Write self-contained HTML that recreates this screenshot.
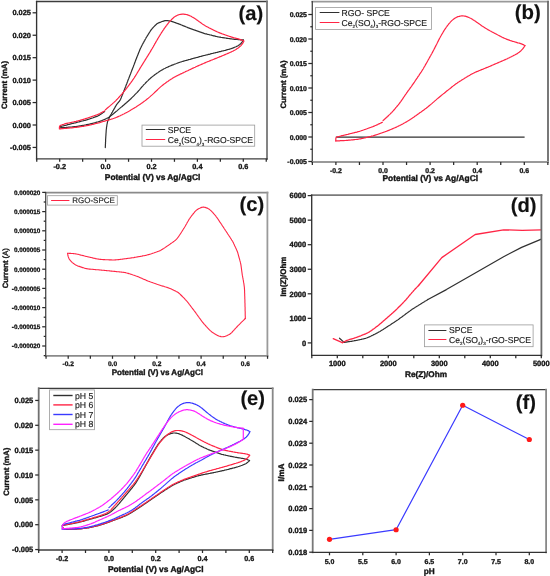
<!DOCTYPE html>
<html><head><meta charset="utf-8"><style>
html,body{margin:0;padding:0;background:#fff;overflow:hidden;}
svg{display:block;font-family:"Liberation Sans", sans-serif;will-change:transform;text-rendering:geometricPrecision;}
</style></head><body>
<svg width="550" height="576" viewBox="0 0 550 576">
<rect width="550" height="576" fill="#fff"/>
<path d="M105.3 147.6L105.3 146.8L105.4 146.1L105.4 145.3L105.4 144.6L105.5 143.8L105.5 143.1L105.5 142.3L105.6 141.6L105.6 140.8L105.6 140.1L105.6 139.3L105.7 138.6L105.7 137.8L105.8 137.1L105.8 136.3L105.9 135.6L105.9 134.8L106.0 134.1L106.0 133.3L106.1 132.6L106.1 131.8L106.2 131.1L106.2 130.3L106.3 129.5L106.4 128.8L106.5 128.1L106.5 127.3L106.7 126.6L106.8 125.8L106.9 125.1L107.0 124.3L107.2 123.6L107.3 122.9L107.5 122.1L107.7 121.4L107.9 120.7L108.2 120.0L108.5 119.3L108.9 118.6L109.2 118.0L109.5 117.3L109.8 116.6L110.2 115.9L110.5 115.3L110.9 114.6L111.3 114.0L111.6 113.3L112.0 112.6L112.4 112.0L112.7 111.3L113.1 110.7L113.5 110.0L113.9 109.4L114.2 108.7L114.6 108.1L115.0 107.4L115.3 106.7L115.7 106.1L116.1 105.4L116.5 104.8L116.9 104.2L117.4 103.6L117.8 103.0L118.3 102.5L118.8 101.9L119.3 101.3L119.8 100.7L120.1 100.1L120.5 99.5L120.8 98.8L121.1 98.1L121.4 97.4L121.6 96.7L121.9 96.0L122.2 95.3L122.5 94.6L122.8 93.9L123.0 93.2L123.3 92.5L123.6 91.8L123.9 91.1L124.1 90.4L124.4 89.7L124.7 89.0L125.0 88.3L125.2 87.6L125.5 86.9L125.8 86.2L126.0 85.5L126.3 84.8L126.6 84.1L126.9 83.4L127.1 82.7L127.4 81.9L127.7 81.2L127.9 80.5L128.2 79.8L128.5 79.1L128.8 78.4L129.0 77.7L129.3 77.0L129.6 76.3L129.8 75.6L130.1 74.9L130.4 74.2L130.7 73.5L130.9 72.8L131.2 72.1L131.5 71.4L131.7 70.7L132.0 70.0L132.3 69.3L132.5 68.6L132.8 67.9L133.1 67.2L133.4 66.5L133.6 65.8L133.9 65.1L134.2 64.4L134.4 63.7L134.7 63.0L135.0 62.3L135.2 61.6L135.5 60.8L135.8 60.1L136.0 59.4L136.3 58.7L136.6 58.0L136.9 57.3L137.1 56.6L137.4 55.9L137.7 55.2L138.0 54.5L138.3 53.8L138.5 53.1L138.8 52.4L139.1 51.7L139.4 51.0L139.7 50.3L140.0 49.6L140.2 49.0L140.5 48.3L140.9 47.6L141.2 46.9L141.5 46.2L141.9 45.6L142.2 44.9L142.6 44.2L142.9 43.6L143.3 42.9L143.7 42.3L144.0 41.6L144.4 40.9L144.8 40.3L145.1 39.6L145.5 39.0L145.9 38.3L146.2 37.6L146.6 37.0L147.0 36.4L147.4 35.7L147.8 35.1L148.2 34.4L148.6 33.8L149.0 33.2L149.4 32.5L149.8 31.9L150.2 31.3L150.6 30.6L151.1 30.0L151.5 29.4L152.0 28.8L152.4 28.2L153.0 27.7L153.5 27.1L154.0 26.6L154.5 26.1L155.1 25.5L155.6 25.0L156.2 24.5L156.7 24.0L157.3 23.6L157.9 23.2L158.6 22.9L159.3 22.6L160.0 22.3L160.7 22.1L161.4 21.8L162.1 21.5L162.8 21.3L163.5 21.1L164.2 20.9L165.0 20.7L165.7 20.7L166.4 20.7L167.2 20.7L167.9 20.7L168.7 20.8L169.4 20.9L170.2 21.0L170.9 21.2L171.6 21.4L172.3 21.6L173.0 21.8L173.8 22.1L174.5 22.3L175.2 22.6L175.9 22.9L176.6 23.1L177.3 23.4L178.0 23.6L178.7 23.9L179.4 24.2L180.1 24.4L180.8 24.7L181.5 25.0L182.2 25.3L182.9 25.6L183.6 25.9L184.3 26.1L185.0 26.4L185.7 26.7L186.4 27.0L187.1 27.3L187.8 27.6L188.5 27.9L189.2 28.1L189.9 28.4L190.6 28.7L191.3 28.9L192.0 29.2L192.7 29.4L193.4 29.7L194.1 29.9L194.9 30.2L195.6 30.4L196.3 30.7L197.0 30.9L197.7 31.2L198.4 31.4L199.1 31.7L199.8 31.9L200.5 32.2L201.3 32.4L202.0 32.7L202.7 32.9L203.4 33.1L204.1 33.4L204.8 33.6L205.6 33.8L206.3 33.9L207.0 34.1L207.8 34.3L208.5 34.5L209.2 34.7L210.0 34.9L210.7 35.0L211.4 35.2L212.1 35.4L212.9 35.6L213.6 35.8L214.3 35.9L215.1 36.1L215.8 36.3L216.5 36.5L217.3 36.7L218.0 36.8L218.7 37.0L219.5 37.1L220.2 37.2L221.0 37.4L221.7 37.5L222.5 37.6L223.2 37.7L223.9 37.8L224.7 37.9L225.4 38.0L226.2 38.1L226.9 38.3L227.7 38.4L228.4 38.5L229.2 38.6L229.9 38.7L230.7 38.8L231.4 38.9L232.1 39.0L232.9 39.1L233.6 39.2L234.4 39.3L235.1 39.3L235.9 39.4L236.6 39.5L237.4 39.5L238.1 39.6L238.9 39.6L239.6 39.7L240.4 39.8L241.1 39.8L241.9 39.9L242.6 39.9L243.4 40.0" fill="none" stroke="#303030" stroke-width="1.20" stroke-linejoin="round" stroke-linecap="round"/>
<path d="M243.4 40.0L243.0 40.6L242.6 41.3L242.2 41.9L241.8 42.4L241.4 43.0L240.9 43.5L240.3 44.0L239.8 44.5L239.2 44.9L238.6 45.3L238.0 45.7L237.3 46.1L236.6 46.4L236.0 46.7L235.3 47.0L234.6 47.3L233.9 47.6L233.2 47.9L232.5 48.1L231.8 48.4L231.1 48.6L230.3 48.8L229.6 49.1L228.9 49.3L228.2 49.5L227.4 49.7L226.7 49.9L226.0 50.1L225.3 50.3L224.5 50.5L223.8 50.7L223.1 50.8L222.3 51.0L221.6 51.2L220.9 51.4L220.1 51.6L219.4 51.7L218.7 51.9L217.9 52.1L217.2 52.3L216.5 52.5L215.7 52.6L215.0 52.8L214.3 53.0L213.5 53.2L212.8 53.4L212.1 53.5L211.3 53.7L210.6 53.9L209.9 54.1L209.1 54.3L208.4 54.4L207.7 54.6L206.9 54.8L206.2 55.0L205.5 55.2L204.7 55.4L204.0 55.5L203.3 55.7L202.5 55.9L201.8 56.1L201.1 56.3L200.4 56.5L199.6 56.7L198.9 56.9L198.2 57.1L197.4 57.3L196.7 57.5L196.0 57.7L195.2 57.9L194.5 58.1L193.8 58.2L193.1 58.5L192.3 58.7L191.6 58.9L190.9 59.1L190.2 59.3L189.4 59.5L188.7 59.7L188.0 59.9L187.2 60.1L186.5 60.3L185.8 60.5L185.1 60.7L184.3 60.9L183.6 61.1L182.9 61.3L182.2 61.5L181.4 61.8L180.7 62.0L180.0 62.2L179.3 62.5L178.6 62.7L177.9 63.0L177.2 63.2L176.5 63.5L175.7 63.8L175.0 64.0L174.3 64.3L173.6 64.6L172.9 64.8L172.2 65.1L171.5 65.4L170.8 65.7L170.1 66.0L169.4 66.3L168.7 66.6L168.1 66.9L167.4 67.2L166.7 67.5L166.0 67.8L165.3 68.2L164.7 68.5L164.0 68.8L163.3 69.2L162.7 69.6L162.0 69.9L161.4 70.3L160.7 70.7L160.1 71.1L159.4 71.5L158.8 71.9L158.2 72.4L157.6 72.8L156.9 73.2L156.3 73.7L155.7 74.1L155.1 74.5L154.5 75.0L153.9 75.5L153.3 75.9L152.7 76.4L152.1 76.9L151.6 77.3L151.0 77.8L150.4 78.3L149.9 78.8L149.3 79.3L148.7 79.8L148.2 80.4L147.7 80.9L147.1 81.4L146.6 81.9L146.0 82.5L145.5 83.0L145.0 83.6L144.5 84.1L143.9 84.6L143.4 85.2L142.9 85.8L142.4 86.3L141.9 86.9L141.4 87.5L140.9 88.0L140.5 88.6L140.0 89.2L139.5 89.8L139.0 90.3L138.5 90.9L138.0 91.5L137.5 92.0L137.0 92.6L136.4 93.1L135.9 93.7L135.4 94.2L134.9 94.7L134.3 95.3L133.8 95.8L133.3 96.3L132.7 96.9L132.2 97.4L131.7 97.9L131.1 98.5L130.6 99.0L130.0 99.5L129.5 100.0L128.9 100.5L128.4 101.0L127.8 101.5L127.2 102.0L126.7 102.5L126.1 103.0L125.5 103.5L124.9 104.0L124.4 104.5L123.8 105.0L123.2 105.5L122.6 106.0L122.1 106.5L121.5 106.9L120.9 107.4L120.3 107.9L119.8 108.4L119.2 108.9L118.6 109.4L118.0 109.9L117.5 110.4L116.9 110.9L116.3 111.3L115.7 111.8L115.2 112.3L114.6 112.8L114.0 113.3L113.4 113.8L112.8 114.2L112.2 114.7L111.7 115.2L111.1 115.6L110.5 116.1L109.8 116.5L109.2 117.0L108.6 117.4L108.0 117.8L107.3 118.1L106.7 118.5L106.0 118.8L105.3 119.1L104.6 119.5L103.9 119.7L103.2 120.0L102.5 120.3L101.8 120.6L101.1 120.8L100.4 121.1L99.7 121.3L99.0 121.5L98.3 121.8L97.5 122.0L96.8 122.2L96.1 122.4L95.4 122.6L94.6 122.8L93.9 123.0L93.2 123.2L92.4 123.4L91.7 123.6L91.0 123.7L90.3 123.9L89.5 124.1L88.8 124.3L88.0 124.4L87.3 124.6L86.6 124.7L85.8 124.9L85.1 125.0L84.3 125.2L83.6 125.3L82.9 125.4L82.1 125.6L81.4 125.7L80.6 125.8L79.9 125.9L79.1 126.1L78.4 126.2L77.6 126.3L76.9 126.4L76.2 126.5L75.4 126.6L74.7 126.7L73.9 126.7L73.2 126.8L72.4 126.9L71.6 127.0L70.9 127.0L70.1 127.1L69.4 127.2L68.6 127.2L67.9 127.3L67.1 127.4L66.4 127.4L65.6 127.5L64.9 127.5L64.1 127.6L63.4 127.6L62.6 127.6L61.9 127.7L61.1 127.7L60.4 127.8L59.6 127.8" fill="none" stroke="#303030" stroke-width="1.20" stroke-linejoin="round" stroke-linecap="round"/>
<path d="M59.6 126.8L60.3 126.6L61.1 126.4L61.8 126.2L62.6 126.0L63.3 125.8L64.1 125.7L64.8 125.5L65.6 125.3L66.3 125.1L67.1 124.9L67.8 124.7L68.6 124.5L69.3 124.3L70.1 124.1L70.8 123.9L71.6 123.7L72.3 123.5L73.1 123.4L73.8 123.2L74.6 123.0L75.3 122.8L76.1 122.6L76.8 122.4L77.6 122.2L78.3 122.0L79.1 121.8L79.8 121.6L80.6 121.4L81.3 121.2L82.1 121.0L82.8 120.9L83.6 120.7L84.3 120.5L85.1 120.3L85.8 120.1L86.6 119.9L87.3 119.7L88.0 119.4L88.8 119.2L89.5 119.0L90.2 118.7L91.0 118.5L91.7 118.2L92.4 118.0L93.2 117.7L93.9 117.4L94.6 117.2L95.3 116.9L96.1 116.7L96.8 116.4L97.5 116.1L98.2 115.8L98.9 115.4L99.5 115.1L100.2 114.6L100.8 114.2L101.5 113.8L102.1 113.3L102.7 112.9L103.3 112.4L104.0 112.0L104.6 111.5" fill="none" stroke="#303030" stroke-width="1.20" stroke-linejoin="round" stroke-linecap="round"/>
<path d="M59.4 128.2L59.4 127.5L59.5 126.8L59.7 126.2L60.1 125.7L60.7 125.3L61.3 125.0L62.0 124.8L62.7 124.5L63.5 124.3L64.2 124.1L64.9 123.8L65.6 123.6L66.4 123.4L67.1 123.3L67.9 123.1L68.6 123.0L69.4 122.8L70.1 122.7L70.9 122.5L71.6 122.3L72.4 122.2L73.1 122.0L73.8 121.9L74.6 121.7L75.3 121.6L76.1 121.4L76.8 121.2L77.6 121.1L78.3 120.8L79.0 120.6L79.8 120.4L80.5 120.2L81.2 120.0L81.9 119.7L82.7 119.5L83.4 119.3L84.1 119.1L84.9 118.9L85.6 118.6L86.3 118.4L87.1 118.2L87.8 118.0L88.5 117.7L89.2 117.5L89.9 117.2L90.7 117.0L91.4 116.7L92.1 116.5L92.8 116.2L93.5 116.0L94.3 115.7L95.0 115.5L95.7 115.2L96.4 115.0L97.1 114.7L97.9 114.4L98.6 114.1L99.2 113.8L99.9 113.5L100.6 113.1L101.3 112.7L101.9 112.4L102.6 112.0L103.3 111.6L103.9 111.3L104.6 110.9" fill="none" stroke="#ff2545" stroke-width="1.20" stroke-linejoin="round" stroke-linecap="round"/>
<path d="M105.4 109.8L106.0 109.3L106.5 108.8L107.1 108.3L107.7 107.8L108.3 107.3L108.8 106.9L109.4 106.4L110.0 105.9L110.6 105.4L111.1 104.9L111.7 104.4L112.3 103.9L112.8 103.4L113.4 102.9L114.0 102.4L114.5 101.9L115.1 101.3L115.6 100.8L116.1 100.3L116.6 99.7L117.2 99.2L117.7 98.6L118.2 98.1L118.7 97.5L119.2 97.0L119.7 96.4L120.2 95.8L120.7 95.3L121.3 94.7L121.8 94.2L122.3 93.6L122.8 93.0L123.3 92.5L123.7 91.9L124.2 91.3L124.7 90.7L125.2 90.1L125.6 89.5L126.1 88.9L126.6 88.3L127.0 87.7L127.5 87.1L127.9 86.5L128.4 85.9L128.8 85.3L129.3 84.7L129.7 84.1L130.2 83.5L130.6 82.9L131.1 82.3L131.5 81.7L132.0 81.1L132.4 80.4L132.8 79.8L133.3 79.2L133.7 78.6L134.1 78.0L134.5 77.3L134.9 76.7L135.3 76.1L135.7 75.4L136.1 74.8L136.5 74.1L136.9 73.5L137.3 72.8L137.7 72.2L138.1 71.5L138.5 70.9L138.9 70.2L139.3 69.6L139.7 68.9L140.0 68.3L140.4 67.7L140.8 67.0L141.2 66.4L141.6 65.7L142.0 65.1L142.4 64.4L142.8 63.8L143.2 63.2L143.6 62.5L144.0 61.9L144.4 61.2L144.8 60.6L145.2 59.9L145.6 59.3L146.0 58.7L146.4 58.0L146.8 57.4L147.2 56.7L147.6 56.1L148.0 55.4L148.4 54.8L148.8 54.2L149.2 53.5L149.6 52.9L150.0 52.2L150.4 51.6L150.8 50.9L151.1 50.3L151.5 49.6L151.9 49.0L152.3 48.3L152.7 47.7L153.1 47.0L153.4 46.4L153.8 45.7L154.2 45.1L154.5 44.4L154.9 43.7L155.3 43.1L155.7 42.4L156.0 41.8L156.4 41.1L156.8 40.5L157.2 39.8L157.6 39.2L157.9 38.5L158.3 37.9L158.7 37.2L159.1 36.6L159.5 35.9L159.9 35.3L160.3 34.6L160.7 34.0L161.1 33.3L161.5 32.7L161.9 32.1L162.3 31.4L162.7 30.8L163.2 30.2L163.6 29.6L164.0 28.9L164.4 28.3L164.9 27.7L165.3 27.1L165.8 26.5L166.2 25.9L166.7 25.3L167.1 24.7L167.6 24.1L168.1 23.5L168.5 22.9L169.0 22.3L169.5 21.7L170.0 21.2L170.5 20.6L171.0 20.1L171.5 19.5L172.1 19.0L172.6 18.5L173.2 18.0L173.7 17.5L174.3 17.1L174.9 16.6L175.6 16.2L176.2 15.9L176.9 15.5L177.5 15.2L178.2 15.0L178.9 14.7L179.6 14.5L180.3 14.4L181.1 14.3L181.8 14.2L182.5 14.2L183.2 14.2L184.0 14.2L184.7 14.3L185.4 14.4L186.2 14.5L186.9 14.7L187.6 14.9L188.3 15.2L189.0 15.4L189.7 15.7L190.4 16.0L191.1 16.3L191.7 16.7L192.4 17.1L193.0 17.4L193.7 17.8L194.3 18.2L194.9 18.6L195.6 19.0L196.2 19.5L196.8 19.9L197.4 20.3L198.0 20.8L198.7 21.2L199.3 21.7L199.9 22.1L200.5 22.6L201.1 23.0L201.7 23.4L202.3 23.9L202.9 24.3L203.6 24.7L204.2 25.1L204.9 25.5L205.5 25.9L206.2 26.3L206.8 26.6L207.5 27.0L208.2 27.3L208.8 27.7L209.5 28.0L210.2 28.4L210.9 28.7L211.5 29.0L212.2 29.4L212.9 29.7L213.6 30.1L214.2 30.4L214.9 30.7L215.6 31.1L216.3 31.4L217.0 31.7L217.6 32.0L218.3 32.3L219.0 32.6L219.7 32.9L220.4 33.2L221.1 33.4L221.8 33.7L222.5 34.0L223.3 34.2L224.0 34.5L224.7 34.7L225.4 35.0L226.1 35.2L226.8 35.5L227.5 35.7L228.2 36.0L229.0 36.2L229.7 36.5L230.4 36.7L231.1 36.9L231.8 37.2L232.6 37.4L233.3 37.6L234.0 37.8L234.7 38.0L235.5 38.2L236.2 38.4L236.9 38.6L237.7 38.7L238.4 38.9L239.1 39.2L239.8 39.4L240.5 39.6L241.2 39.9L241.9 40.1L242.6 40.4L243.3 40.7L244.0 41.0L243.7 41.6L243.3 42.3L243.0 42.9L242.6 43.5L242.1 44.1L241.7 44.7L241.2 45.3L240.7 45.8L240.2 46.3L239.6 46.8L239.0 47.3L238.5 47.7L237.8 48.2L237.2 48.6L236.6 49.0L236.0 49.4L235.3 49.8L234.7 50.2L234.0 50.5L233.3 50.9L232.7 51.2L232.0 51.5L231.3 51.9L230.6 52.2L229.9 52.5L229.3 52.8L228.6 53.1L227.9 53.4L227.2 53.7L226.5 54.0L225.8 54.3L225.1 54.6L224.4 54.9L223.7 55.2L223.0 55.5L222.3 55.8L221.6 56.1L220.9 56.4L220.2 56.6L219.5 56.9L218.8 57.2L218.1 57.5L217.4 57.8L216.7 58.1L216.0 58.3L215.3 58.6L214.6 58.9L213.9 59.2L213.2 59.5L212.5 59.8L211.8 60.0L211.1 60.3L210.4 60.6L209.7 60.9L209.0 61.2L208.3 61.5L207.6 61.7L206.9 62.0L206.2 62.3L205.5 62.6L204.8 62.9L204.1 63.2L203.5 63.5L202.8 63.8L202.1 64.1L201.4 64.4L200.7 64.7L200.0 65.0L199.3 65.3L198.6 65.6L197.9 65.9L197.2 66.2L196.5 66.5L195.9 66.8L195.2 67.2L194.5 67.5L193.8 67.8L193.1 68.1L192.4 68.4L191.7 68.7L191.1 69.1L190.4 69.4L189.7 69.7L189.0 70.0L188.3 70.4L187.7 70.7L187.0 71.0L186.3 71.3L185.6 71.6L184.9 72.0L184.2 72.3L183.6 72.6L182.9 72.9L182.2 73.3L181.5 73.6L180.8 73.9L180.1 74.2L179.5 74.6L178.8 74.9L178.1 75.2L177.4 75.5L176.8 75.9L176.1 76.2L175.4 76.6L174.8 76.9L174.1 77.3L173.4 77.7L172.8 78.1L172.2 78.5L171.5 78.9L170.9 79.3L170.3 79.7L169.6 80.1L169.0 80.5L168.4 81.0L167.8 81.4L167.1 81.8L166.5 82.3L165.9 82.7L165.3 83.2L164.7 83.6L164.1 84.1L163.5 84.5L162.9 85.0L162.3 85.5L161.8 85.9L161.2 86.4L160.6 86.9L160.0 87.4L159.5 87.9L158.9 88.4L158.4 88.9L157.8 89.4L157.3 90.0L156.7 90.5L156.2 91.0L155.6 91.5L155.1 92.0L154.5 92.5L154.0 93.1L153.4 93.6L152.9 94.1L152.3 94.6L151.8 95.1L151.2 95.6L150.6 96.1L150.1 96.6L149.5 97.1L148.9 97.6L148.4 98.1L147.8 98.6L147.2 99.0L146.6 99.5L146.0 100.0L145.4 100.4L144.8 100.9L144.2 101.3L143.6 101.8L143.0 102.2L142.4 102.7L141.8 103.1L141.1 103.6L140.5 104.0L139.9 104.4L139.3 104.8L138.6 105.2L138.0 105.6L137.4 106.1L136.7 106.5L136.1 106.9L135.4 107.3L134.8 107.7L134.2 108.1L133.5 108.4L132.9 108.8L132.2 109.2L131.6 109.6L130.9 110.0L130.3 110.4L129.6 110.8L129.0 111.2L128.3 111.5L127.7 111.9L127.0 112.3L126.3 112.6L125.7 113.0L125.0 113.3L124.3 113.7L123.7 114.0L123.0 114.3L122.3 114.7L121.6 115.0L121.0 115.3L120.3 115.7L119.6 116.0L118.9 116.3L118.2 116.6L117.5 116.9L116.8 117.2L116.1 117.5L115.4 117.8L114.7 118.0L114.0 118.3L113.3 118.5L112.6 118.8L111.9 119.0L111.2 119.2L110.4 119.5L109.7 119.7L109.0 119.9L108.3 120.1L107.5 120.3L106.8 120.5L106.1 120.7L105.4 120.9L104.6 121.1L103.9 121.3L103.2 121.5L102.5 121.7L101.7 121.9L101.0 122.1L100.3 122.4L99.6 122.6L98.8 122.8L98.1 123.0L97.4 123.2L96.7 123.4L95.9 123.5L95.2 123.7L94.5 123.9L93.7 124.1L93.0 124.3L92.3 124.5L91.5 124.6L90.8 124.8L90.1 125.0L89.3 125.1L88.6 125.3L87.9 125.5L87.1 125.6L86.4 125.7L85.6 125.9L84.9 126.0L84.1 126.1L83.4 126.3L82.7 126.4L81.9 126.5L81.2 126.6L80.4 126.7L79.7 126.8L78.9 126.9L78.2 127.1L77.4 127.2L76.7 127.3L75.9 127.3L75.2 127.4L74.4 127.5L73.7 127.6L72.9 127.7L72.2 127.8L71.4 127.8L70.7 127.9L69.9 128.0L69.2 128.1L68.4 128.1L67.7 128.2L66.9 128.3L66.2 128.3L65.4 128.4L64.7 128.5L63.9 128.5L63.2 128.6L62.4 128.7L61.7 128.7L60.9 128.8L60.2 128.8L59.4 128.9" fill="none" stroke="#ff2545" stroke-width="1.20" stroke-linejoin="round" stroke-linecap="round"/>
<line x1="36.60" y1="1.50" x2="267.00" y2="1.50" stroke="#3c3c3c" stroke-width="1.35" stroke-linecap="square"/>
<line x1="267.00" y1="1.50" x2="267.00" y2="158.80" stroke="#777" stroke-width="1.80" stroke-linecap="square"/>
<line x1="36.60" y1="1.50" x2="36.60" y2="158.80" stroke="#333" stroke-width="1.35" stroke-linecap="square"/>
<line x1="36.60" y1="158.80" x2="267.00" y2="158.80" stroke="#3c3c3c" stroke-width="1.35" stroke-linecap="square"/>
<line x1="32.60" y1="12.80" x2="36.60" y2="12.80" stroke="#2a2a2a" stroke-width="1.25"/>
<line x1="32.60" y1="35.24" x2="36.60" y2="35.24" stroke="#2a2a2a" stroke-width="1.25"/>
<line x1="32.60" y1="57.68" x2="36.60" y2="57.68" stroke="#2a2a2a" stroke-width="1.25"/>
<line x1="32.60" y1="80.12" x2="36.60" y2="80.12" stroke="#2a2a2a" stroke-width="1.25"/>
<line x1="32.60" y1="102.56" x2="36.60" y2="102.56" stroke="#2a2a2a" stroke-width="1.25"/>
<line x1="32.60" y1="125.00" x2="36.60" y2="125.00" stroke="#2a2a2a" stroke-width="1.25"/>
<line x1="32.60" y1="147.44" x2="36.60" y2="147.44" stroke="#2a2a2a" stroke-width="1.25"/>
<text x="30.90" y="15.30" font-size="7.40" font-weight="bold" text-anchor="end" fill="#141414" stroke="#141414" stroke-width="0.33">0.025</text>
<text x="30.90" y="37.74" font-size="7.40" font-weight="bold" text-anchor="end" fill="#141414" stroke="#141414" stroke-width="0.33">0.020</text>
<text x="30.90" y="60.18" font-size="7.40" font-weight="bold" text-anchor="end" fill="#141414" stroke="#141414" stroke-width="0.33">0.015</text>
<text x="30.90" y="82.62" font-size="7.40" font-weight="bold" text-anchor="end" fill="#141414" stroke="#141414" stroke-width="0.33">0.010</text>
<text x="30.90" y="105.06" font-size="7.40" font-weight="bold" text-anchor="end" fill="#141414" stroke="#141414" stroke-width="0.33">0.005</text>
<text x="30.90" y="127.50" font-size="7.40" font-weight="bold" text-anchor="end" fill="#141414" stroke="#141414" stroke-width="0.33">0.000</text>
<text x="30.90" y="149.94" font-size="7.40" font-weight="bold" text-anchor="end" fill="#141414" stroke="#141414" stroke-width="0.33">-0.005</text>
<line x1="36.75" y1="158.80" x2="36.75" y2="161.80" stroke="#2a2a2a" stroke-width="1.25"/>
<line x1="59.70" y1="158.80" x2="59.70" y2="161.80" stroke="#2a2a2a" stroke-width="1.25"/>
<line x1="82.65" y1="158.80" x2="82.65" y2="161.80" stroke="#2a2a2a" stroke-width="1.25"/>
<line x1="105.60" y1="158.80" x2="105.60" y2="161.80" stroke="#2a2a2a" stroke-width="1.25"/>
<line x1="128.55" y1="158.80" x2="128.55" y2="161.80" stroke="#2a2a2a" stroke-width="1.25"/>
<line x1="151.50" y1="158.80" x2="151.50" y2="161.80" stroke="#2a2a2a" stroke-width="1.25"/>
<line x1="174.45" y1="158.80" x2="174.45" y2="161.80" stroke="#2a2a2a" stroke-width="1.25"/>
<line x1="197.40" y1="158.80" x2="197.40" y2="161.80" stroke="#2a2a2a" stroke-width="1.25"/>
<line x1="220.35" y1="158.80" x2="220.35" y2="161.80" stroke="#2a2a2a" stroke-width="1.25"/>
<line x1="243.30" y1="158.80" x2="243.30" y2="161.80" stroke="#2a2a2a" stroke-width="1.25"/>
<line x1="266.25" y1="158.80" x2="266.25" y2="161.80" stroke="#2a2a2a" stroke-width="1.25"/>
<text x="59.70" y="169.10" font-size="7.30" font-weight="bold" text-anchor="middle" fill="#141414" stroke="#141414" stroke-width="0.33">-0.2</text>
<text x="105.60" y="169.10" font-size="7.30" font-weight="bold" text-anchor="middle" fill="#141414" stroke="#141414" stroke-width="0.33">0.0</text>
<text x="151.50" y="169.10" font-size="7.30" font-weight="bold" text-anchor="middle" fill="#141414" stroke="#141414" stroke-width="0.33">0.2</text>
<text x="197.40" y="169.10" font-size="7.30" font-weight="bold" text-anchor="middle" fill="#141414" stroke="#141414" stroke-width="0.33">0.4</text>
<text x="243.30" y="169.10" font-size="7.30" font-weight="bold" text-anchor="middle" fill="#141414" stroke="#141414" stroke-width="0.33">0.6</text>
<text x="152.60" y="179.80" font-size="8.40" font-weight="bold" text-anchor="middle" fill="#141414" stroke="#141414" stroke-width="0.38">Potential (V) vs Ag/AgCl</text>
<text x="7.20" y="85.00" font-size="7.80" font-weight="bold" text-anchor="middle" fill="#141414" stroke="#141414" stroke-width="0.35" transform="rotate(-90 7.20 85.00)">Current (mA)</text>
<text x="238.60" y="19.90" font-size="20.20" font-weight="bold" text-anchor="start" fill="#111" stroke="#111" stroke-width="0.15">(a)</text>
<rect x="142.00" y="125.10" width="112.70" height="21.10" fill="#fff" stroke="#9a9a9a" stroke-width="0.8"/>
<line x1="145.80" y1="129.50" x2="165.20" y2="129.50" stroke="#303030" stroke-width="1.05"/>
<line x1="145.80" y1="139.50" x2="165.20" y2="139.50" stroke="#ff2545" stroke-width="1.05"/>
<text x="167.70" y="133.20" font-size="8.60" font-weight="normal" text-anchor="start" fill="#222" stroke="#222" stroke-width="0.15">SPCE</text>
<text x="167.70" y="143.30" font-size="8.60" font-weight="normal" text-anchor="start" fill="#222" stroke="#222" stroke-width="0.15">Ce<tspan font-size="4.47" dy="2.58">2</tspan><tspan dy="-2.58">(SO</tspan><tspan font-size="4.47" dy="2.58">4</tspan><tspan dy="-2.58">)</tspan><tspan font-size="4.47" dy="2.58">3</tspan><tspan dy="-2.58">-RGO-SPCE</tspan></text>
<line x1="335.8" y1="137.2" x2="524.6" y2="137.2" stroke="#303030" stroke-width="1.2"/>
<path d="M335.8 140.9L335.8 140.1L335.8 139.4L335.8 138.6L336.0 138.0L336.3 137.5L336.8 137.1L337.5 136.9L338.2 136.7L339.0 136.5L339.7 136.3L340.5 136.1L341.2 135.9L341.9 135.7L342.7 135.6L343.4 135.4L344.2 135.2L344.9 135.0L345.6 134.8L346.4 134.6L347.1 134.5L347.9 134.3L348.6 134.1L349.3 133.9L350.1 133.7L350.8 133.5L351.6 133.4L352.3 133.2L353.1 133.0L353.8 132.8L354.5 132.6L355.3 132.4L356.0 132.3L356.8 132.1L357.5 131.9L358.2 131.7L359.0 131.5L359.7 131.3L360.4 131.0L361.1 130.8L361.9 130.5L362.6 130.3L363.3 130.0L364.0 129.8L364.7 129.5L365.5 129.3L366.2 129.0L366.9 128.8L367.6 128.5L368.4 128.2L369.1 128.0L369.8 127.7L370.5 127.5L371.2 127.2L372.0 127.0L372.7 126.7L373.4 126.4L374.1 126.2L374.8 125.8L375.5 125.5L376.2 125.2L376.9 124.9L377.6 124.6L378.2 124.2L378.9 123.9L379.6 123.6L380.3 123.3L381.0 122.9L381.7 122.6L382.4 122.3" fill="none" stroke="#ff2545" stroke-width="1.20" stroke-linejoin="round" stroke-linecap="round"/>
<path d="M383.1 120.5L383.7 120.0L384.2 119.5L384.8 119.0L385.3 118.5L385.9 118.0L386.5 117.5L387.0 117.0L387.6 116.5L388.1 116.0L388.7 115.4L389.2 114.9L389.8 114.4L390.3 113.9L390.8 113.3L391.4 112.8L391.9 112.3L392.4 111.7L392.9 111.2L393.4 110.6L393.9 110.0L394.4 109.5L394.9 108.9L395.4 108.3L395.8 107.7L396.3 107.2L396.8 106.6L397.3 106.0L397.8 105.4L398.3 104.9L398.7 104.3L399.2 103.7L399.6 103.1L400.1 102.5L400.5 101.9L401.0 101.3L401.4 100.6L401.8 100.0L402.3 99.4L402.7 98.8L403.1 98.2L403.5 97.5L403.9 96.9L404.4 96.3L404.8 95.7L405.2 95.0L405.6 94.4L406.1 93.8L406.5 93.2L406.9 92.6L407.4 91.9L407.8 91.3L408.2 90.7L408.7 90.1L409.1 89.5L409.6 88.9L410.0 88.3L410.4 87.7L410.9 87.1L411.3 86.5L411.8 85.8L412.2 85.2L412.6 84.6L413.1 84.0L413.5 83.4L413.9 82.8L414.4 82.1L414.8 81.5L415.2 80.9L415.6 80.3L416.0 79.6L416.5 79.0L416.9 78.4L417.3 77.8L417.7 77.1L418.1 76.5L418.6 75.9L419.0 75.3L419.4 74.6L419.8 74.0L420.2 73.4L420.6 72.8L421.1 72.1L421.5 71.5L421.9 70.9L422.3 70.2L422.7 69.6L423.1 69.0L423.5 68.3L423.8 67.7L424.2 67.0L424.6 66.4L425.0 65.7L425.3 65.1L425.7 64.4L426.1 63.7L426.5 63.1L426.8 62.4L427.2 61.8L427.6 61.1L427.9 60.5L428.3 59.8L428.7 59.1L429.0 58.5L429.4 57.8L429.8 57.2L430.1 56.5L430.5 55.9L430.9 55.2L431.2 54.5L431.6 53.9L432.0 53.2L432.3 52.6L432.7 51.9L433.0 51.2L433.4 50.6L433.7 49.9L434.1 49.2L434.4 48.6L434.8 47.9L435.1 47.2L435.4 46.6L435.8 45.9L436.1 45.2L436.5 44.5L436.8 43.9L437.1 43.2L437.5 42.5L437.8 41.8L438.2 41.2L438.5 40.5L438.8 39.8L439.2 39.2L439.5 38.5L439.9 37.8L440.2 37.2L440.6 36.5L441.0 35.8L441.3 35.2L441.7 34.5L442.1 33.9L442.5 33.2L442.9 32.6L443.2 32.0L443.6 31.3L444.0 30.7L444.4 30.0L444.8 29.4L445.2 28.8L445.7 28.1L446.1 27.5L446.5 26.9L447.0 26.3L447.4 25.7L447.9 25.1L448.3 24.5L448.8 23.9L449.3 23.3L449.8 22.8L450.3 22.2L450.8 21.7L451.3 21.1L451.8 20.6L452.4 20.1L453.0 19.6L453.5 19.2L454.1 18.7L454.7 18.3L455.4 17.9L456.0 17.6L456.7 17.2L457.3 16.9L458.0 16.7L458.7 16.5L459.4 16.3L460.1 16.1L460.8 16.0L461.6 15.9L462.3 15.9L463.0 15.9L463.8 16.0L464.5 16.1L465.2 16.2L465.9 16.4L466.6 16.6L467.3 16.8L468.0 17.1L468.7 17.3L469.4 17.7L470.0 18.0L470.7 18.3L471.4 18.7L472.0 19.1L472.6 19.5L473.3 19.9L473.9 20.3L474.5 20.7L475.2 21.1L475.8 21.5L476.4 22.0L477.0 22.4L477.6 22.8L478.3 23.3L478.9 23.7L479.5 24.1L480.1 24.6L480.7 25.0L481.3 25.4L482.0 25.9L482.6 26.3L483.2 26.7L483.8 27.1L484.5 27.5L485.1 27.9L485.7 28.3L486.4 28.7L487.0 29.1L487.7 29.5L488.3 29.9L489.0 30.2L489.6 30.6L490.3 31.0L491.0 31.3L491.6 31.7L492.3 32.0L493.0 32.4L493.6 32.7L494.3 33.1L495.0 33.4L495.6 33.8L496.3 34.1L497.0 34.5L497.6 34.8L498.3 35.2L499.0 35.5L499.6 35.9L500.3 36.2L501.0 36.6L501.6 36.9L502.3 37.3L503.0 37.6L503.6 37.9L504.3 38.2L505.0 38.5L505.7 38.8L506.4 39.1L507.1 39.4L507.8 39.7L508.5 39.9L509.2 40.1L509.9 40.4L510.6 40.6L511.4 40.8L512.1 41.1L512.8 41.3L513.5 41.5L514.2 41.7L515.0 42.0L515.7 42.2L516.4 42.4L517.1 42.6L517.8 42.8L518.6 43.0L519.3 43.2L520.0 43.4L520.7 43.6L521.4 43.8L522.0 44.1L522.6 44.4L523.2 44.6L523.8 44.9L524.4 45.3L524.9 45.6" fill="none" stroke="#ff2545" stroke-width="1.20" stroke-linejoin="round" stroke-linecap="round"/>
<path d="M524.9 45.6L524.5 46.2L524.2 46.8L523.8 47.4L523.4 48.0L522.9 48.6L522.5 49.2L522.0 49.7L521.5 50.2L520.9 50.8L520.4 51.3L519.8 51.7L519.2 52.2L518.6 52.6L518.0 53.1L517.4 53.5L516.8 53.9L516.1 54.2L515.4 54.6L514.8 55.0L514.1 55.3L513.4 55.6L512.8 56.0L512.1 56.3L511.4 56.7L510.7 57.0L510.1 57.3L509.4 57.7L508.7 58.0L508.0 58.3L507.4 58.7L506.7 59.0L506.0 59.3L505.3 59.6L504.6 59.9L503.9 60.2L503.2 60.5L502.6 60.8L501.9 61.1L501.2 61.4L500.5 61.7L499.8 62.0L499.1 62.3L498.4 62.6L497.7 62.9L497.0 63.2L496.3 63.5L495.6 63.8L494.9 64.1L494.2 64.4L493.5 64.7L492.8 65.0L492.1 65.3L491.4 65.6L490.8 65.9L490.1 66.2L489.4 66.5L488.7 66.8L488.0 67.1L487.3 67.3L486.6 67.6L485.9 67.9L485.2 68.2L484.5 68.5L483.8 68.8L483.1 69.1L482.4 69.3L481.7 69.6L481.0 69.9L480.3 70.2L479.6 70.5L478.9 70.8L478.2 71.1L477.5 71.3L476.8 71.6L476.1 71.9L475.4 72.2L474.7 72.5L474.0 72.9L473.4 73.2L472.7 73.5L472.0 73.9L471.4 74.2L470.7 74.6L470.1 75.0L469.4 75.4L468.8 75.8L468.1 76.1L467.5 76.5L466.8 76.9L466.2 77.3L465.6 77.7L464.9 78.1L464.3 78.5L463.6 78.9L463.0 79.3L462.3 79.7L461.7 80.1L461.1 80.5L460.4 80.9L459.8 81.3L459.2 81.7L458.5 82.1L457.9 82.5L457.3 83.0L456.6 83.4L456.0 83.8L455.4 84.3L454.8 84.7L454.2 85.2L453.6 85.6L453.0 86.1L452.4 86.6L451.8 87.0L451.3 87.5L450.7 88.0L450.1 88.5L449.5 88.9L448.9 89.4L448.3 89.9L447.7 90.3L447.1 90.8L446.5 91.3L445.9 91.8L445.4 92.2L444.8 92.7L444.2 93.2L443.6 93.6L443.0 94.1L442.4 94.6L441.8 95.1L441.2 95.5L440.7 96.0L440.1 96.5L439.5 97.0L438.9 97.5L438.3 98.0L437.8 98.4L437.2 98.9L436.6 99.4L436.1 99.9L435.5 100.4L434.9 100.9L434.3 101.4L433.8 101.9L433.2 102.4L432.6 102.9L432.1 103.4L431.5 103.9L430.9 104.4L430.3 104.9L429.8 105.3L429.2 105.8L428.6 106.3L428.0 106.8L427.4 107.2L426.8 107.7L426.2 108.2L425.6 108.6L425.0 109.1L424.4 109.5L423.8 110.0L423.2 110.4L422.6 110.8L422.0 111.3L421.4 111.7L420.7 112.2L420.1 112.6L419.5 113.0L418.9 113.5L418.3 113.9L417.7 114.3L417.1 114.8L416.4 115.2L415.8 115.7L415.2 116.1L414.6 116.5L414.0 117.0L413.4 117.4L412.7 117.8L412.1 118.3L411.5 118.7L410.9 119.1L410.2 119.5L409.6 119.9L409.0 120.3L408.3 120.7L407.7 121.1L407.0 121.5L406.4 121.9L405.7 122.2L405.1 122.6L404.4 123.0L403.7 123.3L403.1 123.7L402.4 124.1L401.8 124.4L401.1 124.8L400.4 125.1L399.8 125.5L399.1 125.8L398.4 126.1L397.7 126.5L397.0 126.8L396.4 127.1L395.7 127.4L395.0 127.7L394.3 128.0L393.6 128.3L392.9 128.6L392.2 128.9L391.5 129.2L390.8 129.5L390.1 129.8L389.4 130.1L388.7 130.4L388.0 130.7L387.3 130.9L386.6 131.2L385.9 131.5L385.2 131.7L384.5 132.0L383.8 132.2L383.1 132.5L382.4 132.7L381.6 133.0L380.9 133.2L380.2 133.5L379.5 133.7L378.8 134.0L378.1 134.2L377.4 134.5L376.7 134.7L375.9 134.9L375.2 135.2L374.5 135.4L373.8 135.6L373.1 135.8L372.3 136.0L371.6 136.2L370.9 136.4L370.1 136.6L369.4 136.8L368.7 136.9L367.9 137.1L367.2 137.3L366.5 137.5L365.7 137.6L365.0 137.8L364.3 138.0L363.5 138.2L362.8 138.3L362.1 138.5L361.3 138.6L360.6 138.8L359.8 138.9L359.1 139.0L358.4 139.2L357.6 139.3L356.9 139.4L356.1 139.5L355.4 139.5L354.6 139.6L353.9 139.7L353.1 139.8L352.4 139.8L351.6 139.9L350.9 140.0L350.1 140.1L349.4 140.1L348.6 140.2L347.9 140.3L347.1 140.3L346.4 140.4L345.6 140.5L344.8 140.5L344.1 140.6L343.3 140.6L342.6 140.6L341.8 140.7L341.1 140.7L340.3 140.7L339.6 140.8L338.8 140.8L338.1 140.8L337.3 140.8L336.6 140.9L335.8 140.9" fill="none" stroke="#ff2545" stroke-width="1.20" stroke-linejoin="round" stroke-linecap="round"/>
<line x1="312.30" y1="1.60" x2="548.00" y2="1.60" stroke="#999" stroke-width="1.80" stroke-linecap="square"/>
<line x1="548.00" y1="1.60" x2="548.00" y2="162.00" stroke="#6a6a6a" stroke-width="1.80" stroke-linecap="square"/>
<line x1="312.30" y1="1.60" x2="312.30" y2="162.00" stroke="#4a4a4a" stroke-width="1.35" stroke-linecap="square"/>
<line x1="312.30" y1="162.00" x2="548.00" y2="162.00" stroke="#999" stroke-width="1.80" stroke-linecap="square"/>
<line x1="308.30" y1="14.50" x2="312.30" y2="14.50" stroke="#2a2a2a" stroke-width="1.25"/>
<line x1="308.30" y1="39.00" x2="312.30" y2="39.00" stroke="#2a2a2a" stroke-width="1.25"/>
<line x1="308.30" y1="63.50" x2="312.30" y2="63.50" stroke="#2a2a2a" stroke-width="1.25"/>
<line x1="308.30" y1="88.00" x2="312.30" y2="88.00" stroke="#2a2a2a" stroke-width="1.25"/>
<line x1="308.30" y1="112.50" x2="312.30" y2="112.50" stroke="#2a2a2a" stroke-width="1.25"/>
<line x1="308.30" y1="137.00" x2="312.30" y2="137.00" stroke="#2a2a2a" stroke-width="1.25"/>
<line x1="308.30" y1="161.50" x2="312.30" y2="161.50" stroke="#2a2a2a" stroke-width="1.25"/>
<line x1="310.30" y1="26.75" x2="312.30" y2="26.75" stroke="#2a2a2a" stroke-width="1.25"/>
<line x1="310.30" y1="51.25" x2="312.30" y2="51.25" stroke="#2a2a2a" stroke-width="1.25"/>
<line x1="310.30" y1="75.75" x2="312.30" y2="75.75" stroke="#2a2a2a" stroke-width="1.25"/>
<line x1="310.30" y1="100.25" x2="312.30" y2="100.25" stroke="#2a2a2a" stroke-width="1.25"/>
<line x1="310.30" y1="124.75" x2="312.30" y2="124.75" stroke="#2a2a2a" stroke-width="1.25"/>
<line x1="310.30" y1="149.25" x2="312.30" y2="149.25" stroke="#2a2a2a" stroke-width="1.25"/>
<text x="306.90" y="17.00" font-size="6.90" font-weight="bold" text-anchor="end" fill="#141414" stroke="#141414" stroke-width="0.31">0.025</text>
<text x="306.90" y="41.50" font-size="6.90" font-weight="bold" text-anchor="end" fill="#141414" stroke="#141414" stroke-width="0.31">0.020</text>
<text x="306.90" y="66.00" font-size="6.90" font-weight="bold" text-anchor="end" fill="#141414" stroke="#141414" stroke-width="0.31">0.015</text>
<text x="306.90" y="90.50" font-size="6.90" font-weight="bold" text-anchor="end" fill="#141414" stroke="#141414" stroke-width="0.31">0.010</text>
<text x="306.90" y="115.00" font-size="6.90" font-weight="bold" text-anchor="end" fill="#141414" stroke="#141414" stroke-width="0.31">0.005</text>
<text x="306.90" y="139.50" font-size="6.90" font-weight="bold" text-anchor="end" fill="#141414" stroke="#141414" stroke-width="0.31">0.000</text>
<text x="306.90" y="164.00" font-size="6.90" font-weight="bold" text-anchor="end" fill="#141414" stroke="#141414" stroke-width="0.31">-0.005</text>
<line x1="312.35" y1="162.00" x2="312.35" y2="165.00" stroke="#2a2a2a" stroke-width="1.25"/>
<line x1="335.90" y1="162.00" x2="335.90" y2="165.00" stroke="#2a2a2a" stroke-width="1.25"/>
<line x1="359.45" y1="162.00" x2="359.45" y2="165.00" stroke="#2a2a2a" stroke-width="1.25"/>
<line x1="383.00" y1="162.00" x2="383.00" y2="165.00" stroke="#2a2a2a" stroke-width="1.25"/>
<line x1="406.55" y1="162.00" x2="406.55" y2="165.00" stroke="#2a2a2a" stroke-width="1.25"/>
<line x1="430.10" y1="162.00" x2="430.10" y2="165.00" stroke="#2a2a2a" stroke-width="1.25"/>
<line x1="453.65" y1="162.00" x2="453.65" y2="165.00" stroke="#2a2a2a" stroke-width="1.25"/>
<line x1="477.20" y1="162.00" x2="477.20" y2="165.00" stroke="#2a2a2a" stroke-width="1.25"/>
<line x1="500.75" y1="162.00" x2="500.75" y2="165.00" stroke="#2a2a2a" stroke-width="1.25"/>
<line x1="524.30" y1="162.00" x2="524.30" y2="165.00" stroke="#2a2a2a" stroke-width="1.25"/>
<line x1="547.85" y1="162.00" x2="547.85" y2="165.00" stroke="#2a2a2a" stroke-width="1.25"/>
<text x="335.90" y="172.50" font-size="6.90" font-weight="bold" text-anchor="middle" fill="#141414" stroke="#141414" stroke-width="0.31">-0.2</text>
<text x="383.00" y="172.50" font-size="6.90" font-weight="bold" text-anchor="middle" fill="#141414" stroke="#141414" stroke-width="0.31">0.0</text>
<text x="430.10" y="172.50" font-size="6.90" font-weight="bold" text-anchor="middle" fill="#141414" stroke="#141414" stroke-width="0.31">0.2</text>
<text x="477.20" y="172.50" font-size="6.90" font-weight="bold" text-anchor="middle" fill="#141414" stroke="#141414" stroke-width="0.31">0.4</text>
<text x="524.30" y="172.50" font-size="6.90" font-weight="bold" text-anchor="middle" fill="#141414" stroke="#141414" stroke-width="0.31">0.6</text>
<text x="430.30" y="180.80" font-size="8.40" font-weight="bold" text-anchor="middle" fill="#141414" stroke="#141414" stroke-width="0.38">Potential (V) vs Ag/AgCl</text>
<text x="285.50" y="84.50" font-size="7.80" font-weight="bold" text-anchor="middle" fill="#141414" stroke="#141414" stroke-width="0.35" transform="rotate(-90 285.50 84.50)">Current (mA)</text>
<text x="514.80" y="18.70" font-size="20.40" font-weight="bold" text-anchor="start" fill="#111" stroke="#111" stroke-width="0.15">(b)</text>
<rect x="315.60" y="7.40" width="115.80" height="22.00" fill="#fff" stroke="#9a9a9a" stroke-width="0.8"/>
<line x1="319.70" y1="12.50" x2="339.40" y2="12.50" stroke="#303030" stroke-width="1.05"/>
<line x1="319.70" y1="22.50" x2="339.40" y2="22.50" stroke="#ff2545" stroke-width="1.05"/>
<text x="341.60" y="15.80" font-size="8.60" font-weight="normal" text-anchor="start" fill="#222" stroke="#222" stroke-width="0.15">RGO- SPCE</text>
<text x="341.60" y="25.50" font-size="8.60" font-weight="normal" text-anchor="start" fill="#222" stroke="#222" stroke-width="0.15">Ce<tspan font-size="4.47" dy="2.58">2</tspan><tspan dy="-2.58">(SO</tspan><tspan font-size="4.47" dy="2.58">4</tspan><tspan dy="-2.58">)</tspan><tspan font-size="4.47" dy="2.58">3</tspan><tspan dy="-2.58">-RGO-SPCE</tspan></text>
<path d="M245.3 318.5L245.3 317.7L245.3 317.0L245.3 316.2L245.2 315.5L245.2 314.7L245.2 314.0L245.2 313.2L245.2 312.5L245.2 311.7L245.1 311.0L245.1 310.2L245.1 309.5L245.1 308.7L245.1 308.0L245.1 307.2L245.0 306.4L245.0 305.7L245.0 304.9L245.0 304.2L245.0 303.4L244.9 302.7L244.9 301.9L244.9 301.2L244.9 300.4L244.9 299.7L244.8 298.9L244.8 298.2L244.8 297.4L244.8 296.7L244.7 295.9L244.7 295.1L244.7 294.4L244.7 293.6L244.6 292.9L244.6 292.1L244.6 291.4L244.6 290.6L244.5 289.9L244.5 289.1L244.4 288.4L244.4 287.6L244.3 286.9L244.2 286.1L244.1 285.4L244.0 284.6L243.9 283.9L243.8 283.2L243.6 282.4L243.5 281.7L243.4 280.9L243.3 280.2L243.1 279.4L243.0 278.7L242.9 278.0L242.7 277.2L242.6 276.5L242.4 275.7L242.3 275.0L242.2 274.3L242.1 273.5L242.0 272.8L241.9 272.0L241.8 271.3L241.7 270.5L241.6 269.8L241.5 269.0L241.4 268.3L241.3 267.5L241.2 266.8L241.1 266.0L241.0 265.3L240.9 264.6L240.7 263.8L240.6 263.1L240.4 262.4L240.2 261.6L240.0 260.9L239.8 260.2L239.6 259.4L239.4 258.7L239.2 258.0L239.0 257.3L238.8 256.5L238.6 255.8L238.4 255.1L238.2 254.3L238.0 253.6L237.8 252.9L237.6 252.2L237.3 251.5L237.0 250.8L236.7 250.1L236.4 249.4L236.1 248.7L235.8 248.0L235.5 247.4L235.2 246.7L234.8 246.0L234.5 245.3L234.2 244.6L233.9 244.0L233.6 243.3L233.2 242.6L232.9 241.9L232.5 241.3L232.1 240.6L231.7 240.0L231.3 239.3L230.9 238.7L230.5 238.1L230.1 237.4L229.7 236.8L229.3 236.2L228.9 235.6L228.5 234.9L228.0 234.3L227.6 233.7L227.2 233.0L226.8 232.4L226.4 231.8L226.0 231.2L225.5 230.5L225.1 229.9L224.7 229.3L224.3 228.7L223.9 228.0L223.5 227.4L223.1 226.8L222.6 226.1L222.2 225.5L221.8 224.9L221.4 224.3L221.0 223.6L220.6 223.0L220.1 222.4L219.7 221.7L219.3 221.1L218.9 220.5L218.5 219.9L218.1 219.2L217.6 218.6L217.2 218.0L216.8 217.4L216.3 216.8L215.9 216.2L215.4 215.6L214.9 215.0L214.4 214.4L213.9 213.9L213.4 213.3L212.9 212.7L212.4 212.2L211.9 211.6L211.4 211.1L210.9 210.6L210.3 210.1L209.8 209.6L209.2 209.2L208.5 208.8L207.9 208.5L207.2 208.1L206.5 207.9L205.8 207.6L205.1 207.4L204.4 207.2L203.7 207.1L203.0 207.1L202.4 207.2L201.7 207.4L201.0 207.6L200.3 207.9L199.7 208.2L199.0 208.5L198.3 208.9L197.7 209.3L197.1 209.7L196.5 210.2L196.0 210.6L195.4 211.2L194.9 211.7L194.4 212.3L194.0 212.9L193.5 213.5L193.0 214.0L192.6 214.6L192.1 215.2L191.6 215.8L191.2 216.4L190.7 217.0L190.3 217.6L189.9 218.2L189.4 218.9L189.0 219.5L188.6 220.1L188.3 220.8L187.9 221.4L187.5 222.1L187.1 222.7L186.8 223.4L186.4 224.1L186.0 224.7L185.6 225.4L185.3 226.0L184.9 226.7L184.5 227.3L184.1 228.0L183.7 228.6L183.3 229.3L182.9 229.9L182.5 230.5L182.1 231.2L181.7 231.8L181.3 232.4L180.9 233.1L180.5 233.7L180.1 234.3L179.6 234.9L179.2 235.6L178.8 236.2L178.4 236.8L177.9 237.4L177.5 238.0L177.0 238.6L176.5 239.1L176.0 239.7L175.5 240.2L174.9 240.6L174.3 241.1L173.7 241.5L173.1 242.0L172.5 242.4L171.8 242.9L171.2 243.3L170.6 243.7L170.0 244.2L169.4 244.6L168.8 245.0L168.1 245.4L167.5 245.9L166.9 246.3L166.3 246.7L165.6 247.1L165.0 247.6L164.4 248.0L163.8 248.4L163.1 248.8L162.5 249.2L161.9 249.6L161.2 250.0L160.6 250.4L159.9 250.7L159.2 251.0L158.5 251.3L157.8 251.5L157.1 251.8L156.4 252.0L155.7 252.3L155.0 252.5L154.3 252.8L153.6 253.0L152.8 253.2L152.1 253.5L151.4 253.7L150.7 254.0L150.0 254.2L149.3 254.4L148.5 254.6L147.8 254.8L147.1 255.0L146.4 255.2L145.6 255.4L144.9 255.5L144.2 255.7L143.4 255.8L142.7 255.9L141.9 256.1L141.2 256.2L140.4 256.4L139.7 256.5L139.0 256.6L138.2 256.8L137.5 256.9L136.7 257.0L136.0 257.2L135.3 257.3L134.5 257.4L133.8 257.6L133.0 257.7L132.3 257.8L131.5 257.9L130.8 258.0L130.1 258.1L129.3 258.2L128.6 258.3L127.8 258.4L127.1 258.5L126.3 258.6L125.6 258.7L124.8 258.8L124.1 258.9L123.3 259.0L122.6 259.1L121.8 259.2L121.1 259.3L120.3 259.4L119.6 259.5L118.8 259.6L118.1 259.6L117.3 259.7L116.6 259.8L115.8 259.9L115.1 259.9L114.3 260.0L113.6 260.0L112.8 260.0L112.1 260.0L111.3 259.9L110.6 259.9L109.8 259.9L109.1 259.9L108.3 259.8L107.6 259.8L106.8 259.7L106.1 259.7L105.3 259.7L104.6 259.6L103.8 259.6L103.1 259.6L102.3 259.5L101.6 259.5L100.8 259.4L100.1 259.4L99.3 259.3L98.6 259.1L97.8 259.0L97.1 258.9L96.4 258.7L95.6 258.6L94.9 258.4L94.2 258.2L93.4 258.1L92.7 257.9L92.0 257.7L91.2 257.5L90.5 257.4L89.8 257.2L89.0 257.0L88.3 256.9L87.6 256.7L86.8 256.5L86.1 256.4L85.4 256.2L84.6 256.0L83.9 255.8L83.2 255.6L82.4 255.4L81.7 255.2L81.0 255.1L80.2 254.9L79.5 254.7L78.8 254.5L78.1 254.3L77.3 254.2L76.6 254.0L75.8 253.9L75.1 253.7L74.4 253.7L73.6 253.6L72.9 253.5L72.1 253.5L71.4 253.5L70.6 253.4L69.9 253.4L69.1 253.4L68.4 253.3L67.6 253.3" fill="none" stroke="#ff2545" stroke-width="1.10" stroke-linejoin="round" stroke-linecap="round"/>
<path d="M67.6 253.3L67.7 254.0L67.8 254.8L67.9 255.5L68.1 256.2L68.3 256.9L68.6 257.6L68.9 258.3L69.2 259.0L69.6 259.6L70.1 260.2L70.5 260.7L71.1 261.3L71.6 261.8L72.1 262.3L72.7 262.8L73.3 263.3L73.9 263.7L74.5 264.2L75.1 264.6L75.7 265.0L76.4 265.3L77.0 265.6L77.7 265.9L78.4 266.2L79.2 266.4L79.9 266.6L80.6 266.9L81.3 267.1L82.0 267.4L82.7 267.6L83.4 267.8L84.2 268.1L84.9 268.3L85.6 268.5L86.3 268.6L87.1 268.8L87.8 268.9L88.6 269.0L89.3 269.1L90.1 269.1L90.8 269.2L91.6 269.3L92.3 269.3L93.1 269.4L93.8 269.5L94.6 269.5L95.3 269.6L96.1 269.7L96.8 269.7L97.6 269.8L98.3 269.8L99.1 269.9L99.8 270.0L100.6 270.0L101.3 270.1L102.1 270.2L102.8 270.2L103.6 270.3L104.3 270.4L105.1 270.5L105.8 270.5L106.6 270.6L107.3 270.7L108.1 270.8L108.8 270.8L109.6 270.9L110.3 271.0L111.1 271.1L111.8 271.1L112.6 271.2L113.3 271.3L114.1 271.4L114.8 271.4L115.6 271.5L116.3 271.6L117.1 271.7L117.8 271.7L118.6 271.8L119.3 271.9L120.1 272.0L120.8 272.0L121.6 272.1L122.3 272.2L123.1 272.3L123.8 272.4L124.6 272.5L125.3 272.6L126.0 272.8L126.8 273.0L127.5 273.2L128.2 273.4L128.9 273.6L129.7 273.8L130.4 274.1L131.1 274.3L131.8 274.5L132.5 274.8L133.2 275.0L134.0 275.2L134.7 275.5L135.4 275.7L136.1 276.0L136.8 276.2L137.5 276.5L138.2 276.8L138.9 277.1L139.6 277.4L140.3 277.7L141.0 278.0L141.7 278.3L142.3 278.6L143.0 278.9L143.7 279.2L144.4 279.5L145.1 279.8L145.8 280.1L146.5 280.4L147.2 280.7L147.9 281.0L148.6 281.2L149.3 281.5L150.0 281.8L150.7 282.0L151.4 282.3L152.1 282.5L152.9 282.8L153.6 283.0L154.3 283.3L155.0 283.5L155.7 283.8L156.4 284.0L157.1 284.3L157.8 284.5L158.5 284.8L159.3 285.0L160.0 285.2L160.7 285.5L161.4 285.7L162.1 285.9L162.9 286.1L163.6 286.3L164.3 286.6L165.0 286.8L165.8 287.0L166.5 287.2L167.2 287.4L167.9 287.7L168.6 287.9L169.3 288.2L170.0 288.5L170.7 288.8L171.4 289.1L172.1 289.4L172.8 289.7L173.4 290.1L174.1 290.4L174.8 290.7L175.5 291.0L176.1 291.4L176.8 291.7L177.4 292.1L178.1 292.5L178.7 293.0L179.2 293.4L179.8 293.9L180.3 294.5L180.9 295.0L181.4 295.5L181.9 296.0L182.5 296.6L183.0 297.1L183.5 297.6L184.1 298.2L184.6 298.7L185.1 299.3L185.6 299.8L186.1 300.4L186.6 300.9L187.1 301.5L187.6 302.1L188.1 302.7L188.5 303.3L189.0 303.9L189.4 304.5L189.9 305.1L190.4 305.7L190.8 306.3L191.3 306.9L191.7 307.5L192.2 308.1L192.6 308.7L193.1 309.3L193.6 309.9L194.0 310.5L194.5 311.1L194.9 311.7L195.4 312.3L195.8 312.9L196.2 313.5L196.7 314.1L197.1 314.7L197.6 315.4L198.0 316.0L198.4 316.6L198.9 317.2L199.3 317.8L199.8 318.4L200.2 319.0L200.6 319.6L201.1 320.2L201.5 320.9L202.0 321.5L202.5 322.1L202.9 322.6L203.4 323.2L203.9 323.8L204.4 324.4L204.9 324.9L205.4 325.5L205.9 326.0L206.4 326.6L206.9 327.1L207.4 327.7L208.0 328.3L208.5 328.8L209.0 329.4L209.5 329.9L210.0 330.4L210.6 330.9L211.2 331.4L211.7 331.9L212.4 332.3L213.0 332.7L213.6 333.1L214.2 333.5L214.9 333.9L215.5 334.3L216.2 334.7L216.8 335.1L217.5 335.4L218.2 335.7L218.8 336.0L219.5 336.3L220.2 336.4L221.0 336.6L221.7 336.7L222.4 336.7L223.2 336.7L223.9 336.6L224.6 336.5L225.3 336.3L226.0 336.0L226.7 335.7L227.4 335.4L228.0 335.1L228.7 334.8L229.3 334.4L230.0 334.0L230.6 333.5L231.1 333.1L231.7 332.6L232.2 332.0L232.7 331.5L233.2 330.9L233.7 330.4L234.2 329.8L234.7 329.3L235.2 328.7L235.7 328.1L236.3 327.6L236.8 327.0L237.3 326.5L237.8 325.9L238.3 325.4L238.9 324.9L239.4 324.3L239.9 323.8L240.5 323.3L241.0 322.7L241.5 322.2L242.1 321.7L242.6 321.1L243.2 320.6L243.7 320.1L244.2 319.6L244.8 319.0L245.3 318.5" fill="none" stroke="#ff2545" stroke-width="1.10" stroke-linejoin="round" stroke-linecap="round"/>
<line x1="45.70" y1="192.60" x2="267.40" y2="192.60" stroke="#8a8a8a" stroke-width="1.80" stroke-linecap="square"/>
<line x1="267.40" y1="192.60" x2="267.40" y2="355.80" stroke="#9a9a9a" stroke-width="1.80" stroke-linecap="square"/>
<line x1="45.70" y1="192.60" x2="45.70" y2="355.80" stroke="#505050" stroke-width="1.35" stroke-linecap="square"/>
<line x1="45.70" y1="355.80" x2="267.40" y2="355.80" stroke="#8a8a8a" stroke-width="1.80" stroke-linecap="square"/>
<line x1="42.20" y1="192.40" x2="45.70" y2="192.40" stroke="#2a2a2a" stroke-width="1.25"/>
<line x1="42.20" y1="211.60" x2="45.70" y2="211.60" stroke="#2a2a2a" stroke-width="1.25"/>
<line x1="42.20" y1="230.80" x2="45.70" y2="230.80" stroke="#2a2a2a" stroke-width="1.25"/>
<line x1="42.20" y1="250.00" x2="45.70" y2="250.00" stroke="#2a2a2a" stroke-width="1.25"/>
<line x1="42.20" y1="269.20" x2="45.70" y2="269.20" stroke="#2a2a2a" stroke-width="1.25"/>
<line x1="42.20" y1="288.40" x2="45.70" y2="288.40" stroke="#2a2a2a" stroke-width="1.25"/>
<line x1="42.20" y1="307.60" x2="45.70" y2="307.60" stroke="#2a2a2a" stroke-width="1.25"/>
<line x1="42.20" y1="326.80" x2="45.70" y2="326.80" stroke="#2a2a2a" stroke-width="1.25"/>
<line x1="42.20" y1="346.00" x2="45.70" y2="346.00" stroke="#2a2a2a" stroke-width="1.25"/>
<line x1="43.70" y1="202.00" x2="45.70" y2="202.00" stroke="#2a2a2a" stroke-width="1.25"/>
<line x1="43.70" y1="221.20" x2="45.70" y2="221.20" stroke="#2a2a2a" stroke-width="1.25"/>
<line x1="43.70" y1="240.40" x2="45.70" y2="240.40" stroke="#2a2a2a" stroke-width="1.25"/>
<line x1="43.70" y1="259.60" x2="45.70" y2="259.60" stroke="#2a2a2a" stroke-width="1.25"/>
<line x1="43.70" y1="278.80" x2="45.70" y2="278.80" stroke="#2a2a2a" stroke-width="1.25"/>
<line x1="43.70" y1="298.00" x2="45.70" y2="298.00" stroke="#2a2a2a" stroke-width="1.25"/>
<line x1="43.70" y1="317.20" x2="45.70" y2="317.20" stroke="#2a2a2a" stroke-width="1.25"/>
<line x1="43.70" y1="336.40" x2="45.70" y2="336.40" stroke="#2a2a2a" stroke-width="1.25"/>
<line x1="43.70" y1="355.60" x2="45.70" y2="355.60" stroke="#2a2a2a" stroke-width="1.25"/>
<text x="40.40" y="194.70" font-size="6.35" font-weight="bold" text-anchor="end" fill="#141414" stroke="#141414" stroke-width="0.29">0.000020</text>
<text x="40.40" y="213.90" font-size="6.35" font-weight="bold" text-anchor="end" fill="#141414" stroke="#141414" stroke-width="0.29">0.000015</text>
<text x="40.40" y="233.10" font-size="6.35" font-weight="bold" text-anchor="end" fill="#141414" stroke="#141414" stroke-width="0.29">0.000010</text>
<text x="40.40" y="252.30" font-size="6.35" font-weight="bold" text-anchor="end" fill="#141414" stroke="#141414" stroke-width="0.29">0.000005</text>
<text x="40.40" y="271.50" font-size="6.35" font-weight="bold" text-anchor="end" fill="#141414" stroke="#141414" stroke-width="0.29">0.000000</text>
<text x="40.40" y="290.70" font-size="6.35" font-weight="bold" text-anchor="end" fill="#141414" stroke="#141414" stroke-width="0.29">-0.000005</text>
<text x="40.40" y="309.90" font-size="6.35" font-weight="bold" text-anchor="end" fill="#141414" stroke="#141414" stroke-width="0.29">-0.000010</text>
<text x="40.40" y="329.10" font-size="6.35" font-weight="bold" text-anchor="end" fill="#141414" stroke="#141414" stroke-width="0.29">-0.000015</text>
<text x="40.40" y="348.30" font-size="6.35" font-weight="bold" text-anchor="end" fill="#141414" stroke="#141414" stroke-width="0.29">-0.000020</text>
<line x1="46.05" y1="355.80" x2="46.05" y2="358.80" stroke="#2a2a2a" stroke-width="1.25"/>
<line x1="68.20" y1="355.80" x2="68.20" y2="358.80" stroke="#2a2a2a" stroke-width="1.25"/>
<line x1="90.35" y1="355.80" x2="90.35" y2="358.80" stroke="#2a2a2a" stroke-width="1.25"/>
<line x1="112.50" y1="355.80" x2="112.50" y2="358.80" stroke="#2a2a2a" stroke-width="1.25"/>
<line x1="134.65" y1="355.80" x2="134.65" y2="358.80" stroke="#2a2a2a" stroke-width="1.25"/>
<line x1="156.80" y1="355.80" x2="156.80" y2="358.80" stroke="#2a2a2a" stroke-width="1.25"/>
<line x1="178.95" y1="355.80" x2="178.95" y2="358.80" stroke="#2a2a2a" stroke-width="1.25"/>
<line x1="201.10" y1="355.80" x2="201.10" y2="358.80" stroke="#2a2a2a" stroke-width="1.25"/>
<line x1="223.25" y1="355.80" x2="223.25" y2="358.80" stroke="#2a2a2a" stroke-width="1.25"/>
<line x1="245.40" y1="355.80" x2="245.40" y2="358.80" stroke="#2a2a2a" stroke-width="1.25"/>
<line x1="267.55" y1="355.80" x2="267.55" y2="358.80" stroke="#2a2a2a" stroke-width="1.25"/>
<text x="68.20" y="365.90" font-size="6.60" font-weight="bold" text-anchor="middle" fill="#141414" stroke="#141414" stroke-width="0.30">-0.2</text>
<text x="112.50" y="365.90" font-size="6.60" font-weight="bold" text-anchor="middle" fill="#141414" stroke="#141414" stroke-width="0.30">0.0</text>
<text x="156.80" y="365.90" font-size="6.60" font-weight="bold" text-anchor="middle" fill="#141414" stroke="#141414" stroke-width="0.30">0.2</text>
<text x="201.10" y="365.90" font-size="6.60" font-weight="bold" text-anchor="middle" fill="#141414" stroke="#141414" stroke-width="0.30">0.4</text>
<text x="245.40" y="365.90" font-size="6.60" font-weight="bold" text-anchor="middle" fill="#141414" stroke="#141414" stroke-width="0.30">0.6</text>
<text x="157.30" y="375.30" font-size="8.00" font-weight="bold" text-anchor="middle" fill="#141414" stroke="#141414" stroke-width="0.36">Potential (V) vs Ag/AgCl</text>
<text x="7.90" y="268.20" font-size="7.70" font-weight="bold" text-anchor="middle" fill="#141414" stroke="#141414" stroke-width="0.35" transform="rotate(-90 7.90 268.20)">Current <tspan font-weight="normal">(A)</tspan></text>
<text x="239.60" y="210.60" font-size="20.20" font-weight="bold" text-anchor="start" fill="#111" stroke="#111" stroke-width="0.15">(c)</text>
<rect x="47.40" y="195.70" width="69.90" height="9.40" fill="#fff" stroke="#9a9a9a" stroke-width="0.8"/>
<line x1="51.10" y1="200.50" x2="69.40" y2="200.50" stroke="#ff2545" stroke-width="1.05"/>
<text x="72.20" y="203.40" font-size="8.00" font-weight="normal" text-anchor="start" fill="#222" stroke="#222" stroke-width="0.14">RGO-SPCE</text>
<path d="M339.5 338.2L344.1 342.4" fill="none" stroke="#303030" stroke-width="1.20" stroke-linejoin="round" stroke-linecap="round"/>
<path d="M344.1 342.4L344.8 342.3L345.6 342.2L346.3 342.1L347.1 341.9L347.8 341.8L348.6 341.7L349.3 341.6L350.1 341.5L350.8 341.4L351.6 341.3L352.3 341.1L353.1 341.0L353.8 340.9L354.6 340.7L355.3 340.6L356.1 340.5L356.8 340.3L357.6 340.2L358.3 340.0L359.0 339.8L359.8 339.7L360.5 339.5L361.3 339.4L362.0 339.2L362.7 339.0L363.5 338.9L364.2 338.7L364.9 338.5L365.7 338.3L366.4 338.0L367.1 337.8L367.8 337.5L368.5 337.2L369.2 336.9L369.9 336.6L370.5 336.3L371.2 336.0L371.9 335.6L372.6 335.3L373.3 334.9L373.9 334.6L374.6 334.3L375.3 333.9L376.0 333.6L376.6 333.2L377.3 332.9L378.0 332.5L378.6 332.1L379.3 331.8L380.0 331.4L380.6 331.0L381.3 330.6L381.9 330.2L382.5 329.8L383.2 329.4L383.8 329.0L384.5 328.6L385.1 328.2L385.7 327.8L386.4 327.3L387.0 326.9L387.6 326.5L388.3 326.1L388.9 325.7L389.5 325.3L390.2 324.9L390.8 324.5L391.5 324.0L392.1 323.6L392.7 323.2L393.4 322.8L394.0 322.4L394.6 322.0L395.3 321.6L395.9 321.1L396.5 320.7L397.1 320.3L397.8 319.9L398.4 319.4L399.0 319.0L399.6 318.5L400.2 318.1L400.8 317.6L401.5 317.2L402.1 316.7L402.7 316.3L403.3 315.8L403.9 315.4L404.5 314.9L405.1 314.5L405.7 314.0L406.3 313.6L406.9 313.1L407.5 312.7L408.1 312.2L408.8 311.8L409.4 311.3L410.0 310.9L410.6 310.4L411.2 310.0L411.8 309.6L412.5 309.1L413.1 308.7L413.7 308.3L414.4 307.9L415.0 307.5L415.6 307.1L416.3 306.7L416.9 306.3L417.6 305.9L418.2 305.5L418.9 305.1L419.5 304.7L420.2 304.3L420.8 303.9L421.4 303.5L422.1 303.1L422.7 302.7L423.4 302.3L424.0 301.9L424.7 301.5L425.3 301.1L426.0 300.7L426.6 300.3L427.3 299.9L427.9 299.5" fill="none" stroke="#303030" stroke-width="1.20" stroke-linejoin="round" stroke-linecap="round"/>
<path d="M427.9 299.5L446.4 289.6L469.6 276.2L503.6 256.7L521.6 247.4L541.4 239.1" fill="none" stroke="#303030" stroke-width="1.20" stroke-linejoin="round" stroke-linecap="round"/>
<path d="M333.2 338.7L342.3 342.7" fill="none" stroke="#ff2545" stroke-width="1.30" stroke-linejoin="round" stroke-linecap="round"/>
<path d="M342.3 342.7L343.0 342.3L343.6 342.0L344.3 341.6L345.0 341.3L345.6 341.0L346.3 340.7L347.0 340.4L347.7 340.2L348.5 339.9L349.2 339.7L349.9 339.4L350.6 339.2L351.3 339.0L352.1 338.8L352.8 338.5L353.5 338.3L354.2 338.1L355.0 337.8L355.7 337.6L356.4 337.3L357.1 337.1L357.8 336.8L358.5 336.6L359.2 336.3L360.0 336.0L360.7 335.8L361.4 335.5L362.1 335.2L362.8 334.9L363.5 334.7L364.2 334.4L364.9 334.1L365.6 333.8L366.3 333.5L367.0 333.2L367.6 332.8L368.3 332.5L369.0 332.1L369.6 331.7L370.2 331.3L370.9 330.9L371.5 330.5L372.1 330.0L372.7 329.6L373.3 329.1L373.9 328.7L374.6 328.2L375.2 327.8L375.8 327.3L376.4 326.8L377.0 326.4L377.6 325.9L378.2 325.5L378.8 325.0L379.4 324.5L379.9 324.0L380.5 323.5L381.1 323.1L381.7 322.6L382.3 322.1L382.8 321.6L383.4 321.1L384.0 320.6L384.6 320.1L385.1 319.6L385.7 319.1L386.3 318.6L386.9 318.1L387.4 317.6L388.0 317.1L388.6 316.6L389.2 316.1L389.7 315.6L390.3 315.1L390.9 314.6L391.4 314.1L392.0 313.6L392.6 313.1L393.1 312.6L393.7 312.1L394.2 311.5L394.8 311.0L395.3 310.5L395.9 310.0L396.4 309.4L397.0 308.9L397.5 308.4L398.1 307.8L398.6 307.3L399.1 306.8L399.7 306.2L400.2 305.7L400.7 305.2L401.3 304.6L401.8 304.1L402.3 303.5L402.9 303.0L403.4 302.4L403.9 301.9L404.4 301.3L405.0 300.8L405.5 300.2L406.0 299.7L406.5 299.1L407.0 298.5L407.5 297.9L408.0 297.4L408.4 296.8L408.9 296.2L409.4 295.6L409.9 295.0L410.4 294.4L410.9 293.9L411.4 293.3L411.9 292.7L412.4 292.1L412.9 291.6L413.4 291.0L413.9 290.4L414.4 289.9L414.9 289.3L415.4 288.8L415.9 288.2L416.5 287.7L417.0 287.1L417.5 286.6L418.1 286.0L418.6 285.5" fill="none" stroke="#ff2545" stroke-width="1.30" stroke-linejoin="round" stroke-linecap="round"/>
<path d="M418.6 285.5L441.8 257.6L475.2 234.5L503.6 229.8L522.2 230.4L541.4 229.8" fill="none" stroke="#ff2545" stroke-width="1.30" stroke-linejoin="round" stroke-linecap="round"/>
<line x1="311.70" y1="195.10" x2="541.40" y2="195.10" stroke="#7a7a7a" stroke-width="1.80" stroke-linecap="square"/>
<line x1="541.40" y1="195.10" x2="541.40" y2="355.30" stroke="#6a6a6a" stroke-width="1.80" stroke-linecap="square"/>
<line x1="311.70" y1="195.10" x2="311.70" y2="355.30" stroke="#333" stroke-width="1.35" stroke-linecap="square"/>
<line x1="311.70" y1="355.30" x2="541.40" y2="355.30" stroke="#333" stroke-width="1.35" stroke-linecap="square"/>
<line x1="307.70" y1="342.90" x2="311.70" y2="342.90" stroke="#2a2a2a" stroke-width="1.25"/>
<line x1="307.70" y1="318.35" x2="311.70" y2="318.35" stroke="#2a2a2a" stroke-width="1.25"/>
<line x1="307.70" y1="293.80" x2="311.70" y2="293.80" stroke="#2a2a2a" stroke-width="1.25"/>
<line x1="307.70" y1="269.25" x2="311.70" y2="269.25" stroke="#2a2a2a" stroke-width="1.25"/>
<line x1="307.70" y1="244.70" x2="311.70" y2="244.70" stroke="#2a2a2a" stroke-width="1.25"/>
<line x1="307.70" y1="220.15" x2="311.70" y2="220.15" stroke="#2a2a2a" stroke-width="1.25"/>
<line x1="307.70" y1="195.60" x2="311.70" y2="195.60" stroke="#2a2a2a" stroke-width="1.25"/>
<text x="306.20" y="345.60" font-size="7.50" font-weight="bold" text-anchor="end" fill="#141414" stroke="#141414" stroke-width="0.34">0</text>
<text x="306.20" y="321.05" font-size="7.50" font-weight="bold" text-anchor="end" fill="#141414" stroke="#141414" stroke-width="0.34">1000</text>
<text x="306.20" y="296.50" font-size="7.50" font-weight="bold" text-anchor="end" fill="#141414" stroke="#141414" stroke-width="0.34">2000</text>
<text x="306.20" y="271.95" font-size="7.50" font-weight="bold" text-anchor="end" fill="#141414" stroke="#141414" stroke-width="0.34">3000</text>
<text x="306.20" y="247.40" font-size="7.50" font-weight="bold" text-anchor="end" fill="#141414" stroke="#141414" stroke-width="0.34">4000</text>
<text x="306.20" y="222.85" font-size="7.50" font-weight="bold" text-anchor="end" fill="#141414" stroke="#141414" stroke-width="0.34">5000</text>
<text x="306.20" y="198.30" font-size="7.50" font-weight="bold" text-anchor="end" fill="#141414" stroke="#141414" stroke-width="0.34">6000</text>
<line x1="311.80" y1="355.30" x2="311.80" y2="358.30" stroke="#2a2a2a" stroke-width="1.25"/>
<line x1="337.30" y1="355.30" x2="337.30" y2="358.30" stroke="#2a2a2a" stroke-width="1.25"/>
<line x1="362.80" y1="355.30" x2="362.80" y2="358.30" stroke="#2a2a2a" stroke-width="1.25"/>
<line x1="388.30" y1="355.30" x2="388.30" y2="358.30" stroke="#2a2a2a" stroke-width="1.25"/>
<line x1="413.80" y1="355.30" x2="413.80" y2="358.30" stroke="#2a2a2a" stroke-width="1.25"/>
<line x1="439.30" y1="355.30" x2="439.30" y2="358.30" stroke="#2a2a2a" stroke-width="1.25"/>
<line x1="464.80" y1="355.30" x2="464.80" y2="358.30" stroke="#2a2a2a" stroke-width="1.25"/>
<line x1="490.30" y1="355.30" x2="490.30" y2="358.30" stroke="#2a2a2a" stroke-width="1.25"/>
<line x1="515.80" y1="355.30" x2="515.80" y2="358.30" stroke="#2a2a2a" stroke-width="1.25"/>
<line x1="541.30" y1="355.30" x2="541.30" y2="358.30" stroke="#2a2a2a" stroke-width="1.25"/>
<text x="337.30" y="366.40" font-size="7.50" font-weight="bold" text-anchor="middle" fill="#141414" stroke="#141414" stroke-width="0.34">1000</text>
<text x="388.30" y="366.40" font-size="7.50" font-weight="bold" text-anchor="middle" fill="#141414" stroke="#141414" stroke-width="0.34">2000</text>
<text x="439.30" y="366.40" font-size="7.50" font-weight="bold" text-anchor="middle" fill="#141414" stroke="#141414" stroke-width="0.34">3000</text>
<text x="490.30" y="366.40" font-size="7.50" font-weight="bold" text-anchor="middle" fill="#141414" stroke="#141414" stroke-width="0.34">4000</text>
<text x="541.30" y="366.40" font-size="7.50" font-weight="bold" text-anchor="middle" fill="#141414" stroke="#141414" stroke-width="0.34">5000</text>
<text x="426.00" y="376.90" font-size="8.20" font-weight="bold" text-anchor="middle" fill="#141414" stroke="#141414" stroke-width="0.37">Re(Z)/Ohm</text>
<text x="286.00" y="276.60" font-size="8.00" font-weight="bold" text-anchor="middle" fill="#141414" stroke="#141414" stroke-width="0.36" transform="rotate(-90 286.00 276.60)">Im(Z)/Ohm</text>
<text x="510.80" y="211.50" font-size="20.20" font-weight="bold" text-anchor="start" fill="#111" stroke="#111" stroke-width="0.15">(d)</text>
<rect x="424.40" y="324.90" width="108.70" height="21.80" fill="#fff" stroke="#9a9a9a" stroke-width="0.8"/>
<line x1="428.40" y1="330.50" x2="446.40" y2="330.50" stroke="#303030" stroke-width="1.05"/>
<line x1="428.40" y1="339.50" x2="446.40" y2="339.50" stroke="#ff2545" stroke-width="1.05"/>
<text x="449.10" y="333.20" font-size="8.60" font-weight="normal" text-anchor="start" fill="#222" stroke="#222" stroke-width="0.15">SPCE</text>
<text x="449.10" y="342.90" font-size="8.60" font-weight="normal" text-anchor="start" fill="#222" stroke="#222" stroke-width="0.15">Ce<tspan font-size="4.47" dy="2.58">2</tspan><tspan dy="-2.58">(SO</tspan><tspan font-size="4.47" dy="2.58">4</tspan><tspan dy="-2.58">)</tspan><tspan font-size="4.47" dy="2.58">3</tspan><tspan dy="-2.58">-rGO-SPCE</tspan></text>
<path d="M62.3 525.6L63.0 525.5L63.8 525.3L64.5 525.2L65.3 525.0L66.0 524.9L66.7 524.7L67.5 524.6L68.2 524.5L69.0 524.3L69.7 524.2L70.4 524.0L71.2 523.9L71.9 523.7L72.7 523.6L73.4 523.4L74.1 523.3L74.9 523.2L75.6 523.0L76.3 522.9L77.1 522.7L77.8 522.6L78.6 522.4L79.3 522.2L80.0 522.0L80.7 521.9L81.5 521.7L82.2 521.5L82.9 521.3L83.7 521.1L84.4 520.9L85.1 520.6L85.8 520.4L86.5 520.2L87.3 520.0L88.0 519.8L88.7 519.6L89.4 519.4L90.2 519.2L90.9 519.0L91.6 518.8L92.3 518.6L93.1 518.4L93.8 518.2L94.5 518.0L95.2 517.8L96.0 517.6L96.7 517.4L97.4 517.1L98.1 516.9L98.9 516.7L99.6 516.5L100.3 516.3L101.0 516.1L101.8 515.9L102.5 515.7L103.2 515.4L103.9 515.2L104.6 515.0L105.3 514.7L106.0 514.5L106.7 514.2L107.4 513.9L108.0 513.5L108.7 513.2L109.3 512.8L109.9 512.4L110.5 511.9L111.1 511.5L111.7 511.0L112.2 510.5L112.8 510.0L113.4 509.5L113.9 509.0L114.5 508.5L115.0 508.0L115.6 507.4L116.1 506.9L116.6 506.4L117.1 505.8L117.6 505.3L118.1 504.7L118.6 504.1L119.1 503.6L119.6 503.0L120.1 502.4L120.6 501.8L121.1 501.2L121.5 500.7L122.0 500.1L122.5 499.5L123.0 498.9L123.5 498.3L123.9 497.8L124.4 497.2L124.9 496.6L125.4 496.0L125.9 495.4L126.3 494.9L126.8 494.3L127.3 493.7L127.8 493.1L128.2 492.5L128.7 492.0L129.2 491.4L129.7 490.8L130.2 490.2L130.6 489.6L131.1 489.0L131.6 488.5L132.1 487.9L132.5 487.3L133.0 486.7L133.5 486.1L133.9 485.5L134.4 484.9L134.8 484.3L135.2 483.7L135.7 483.1L136.1 482.4L136.5 481.8L136.9 481.2L137.3 480.5L137.7 479.9L138.0 479.2L138.4 478.6L138.8 477.9L139.2 477.3L139.6 476.6L140.0 476.0L140.3 475.3L140.7 474.7L141.1 474.0L141.4 473.4L141.8 472.7L142.2 472.0L142.5 471.4L142.9 470.7L143.3 470.1L143.6 469.4L144.0 468.7L144.3 468.1L144.7 467.4L145.1 466.8L145.4 466.1L145.8 465.4L146.1 464.8L146.5 464.1L146.9 463.5L147.2 462.8L147.6 462.1L148.0 461.5L148.3 460.8L148.7 460.2L149.0 459.5L149.4 458.8L149.8 458.2L150.1 457.5L150.5 456.9L150.9 456.2L151.2 455.5L151.6 454.9L152.0 454.2L152.4 453.6L152.8 452.9L153.2 452.3L153.5 451.7L153.9 451.0L154.3 450.4L154.7 449.7L155.1 449.1L155.5 448.4L155.9 447.8L156.3 447.2L156.7 446.5L157.1 445.9L157.5 445.3L157.9 444.6L158.3 444.0L158.8 443.4L159.2 442.8L159.7 442.2L160.2 441.6L160.7 441.1L161.1 440.5L161.6 439.9L162.1 439.3L162.6 438.8L163.1 438.2L163.7 437.7L164.2 437.2L164.8 436.7L165.3 436.3L165.9 435.9L166.6 435.5L167.2 435.1L167.9 434.8L168.6 434.5L169.2 434.2L169.9 433.9L170.6 433.6L171.3 433.4L172.0 433.3L172.7 433.1L173.5 433.0L174.2 433.0L174.9 433.0L175.7 433.1L176.4 433.2L177.1 433.3L177.8 433.5L178.5 433.7L179.2 433.9L179.9 434.2L180.6 434.5L181.3 434.8L182.0 435.1L182.7 435.4L183.3 435.8L184.0 436.1L184.7 436.5L185.3 436.8L186.0 437.2L186.7 437.5L187.3 437.9L188.0 438.3L188.6 438.6L189.3 439.0L189.9 439.4L190.6 439.8L191.2 440.2L191.9 440.5L192.5 440.9L193.2 441.3L193.8 441.7L194.4 442.1L195.1 442.5L195.7 442.9L196.3 443.3L197.0 443.7L197.6 444.1L198.3 444.5L198.9 444.9L199.6 445.3L200.2 445.7L200.9 446.0L201.5 446.4L202.2 446.7L202.9 447.0L203.6 447.4L204.2 447.7L204.9 448.0L205.6 448.3L206.3 448.6L207.0 449.0L207.7 449.3L208.3 449.6L209.0 449.8L209.7 450.1L210.4 450.4L211.2 450.6L211.9 450.9L212.6 451.2L213.3 451.4L214.0 451.7L214.7 451.9L215.4 452.1L216.1 452.4L216.8 452.6L217.5 452.9L218.3 453.1L219.0 453.4L219.7 453.6L220.4 453.8L221.1 454.1L221.8 454.3L222.6 454.5L223.3 454.7L224.0 454.9L224.7 455.0L225.5 455.2L226.2 455.4L227.0 455.5L227.7 455.7L228.4 455.8L229.2 456.0L229.9 456.1L230.6 456.3L231.4 456.4L232.1 456.6L232.9 456.7L233.6 456.9L234.3 457.0L235.1 457.2L235.8 457.3L236.6 457.4L237.3 457.6L238.0 457.7L238.8 457.8L239.5 457.9L240.3 458.0L241.0 458.2L241.8 458.3L242.5 458.4L243.2 458.5L244.0 458.7L244.7 458.8L245.4 459.0L246.1 459.2L246.8 459.5L247.5 459.7L248.2 460.0L248.9 460.3L249.6 460.6L249.1 461.1L248.5 461.6L247.9 462.1L247.4 462.6L246.8 463.0L246.2 463.4L245.5 463.8L244.9 464.1L244.2 464.5L243.5 464.7L242.8 465.0L242.1 465.3L241.4 465.5L240.7 465.8L240.0 466.0L239.3 466.3L238.5 466.5L237.8 466.8L237.1 467.0L236.4 467.2L235.7 467.4L234.9 467.6L234.2 467.8L233.5 468.0L232.7 468.2L232.0 468.4L231.3 468.6L230.6 468.7L229.8 468.9L229.1 469.1L228.4 469.3L227.6 469.5L226.9 469.7L226.2 469.8L225.4 470.0L224.7 470.2L224.0 470.4L223.2 470.6L222.5 470.7L221.7 470.9L221.0 471.1L220.3 471.2L219.5 471.4L218.8 471.5L218.1 471.7L217.3 471.8L216.6 472.0L215.8 472.2L215.1 472.3L214.4 472.5L213.6 472.6L212.9 472.8L212.1 472.9L211.4 473.1L210.7 473.2L209.9 473.4L209.2 473.5L208.4 473.7L207.7 473.8L207.0 473.9L206.2 474.1L205.5 474.2L204.7 474.4L204.0 474.5L203.2 474.6L202.5 474.8L201.8 474.9L201.0 475.1L200.3 475.3L199.6 475.4L198.8 475.6L198.1 475.8L197.4 476.0L196.7 476.2L195.9 476.4L195.2 476.7L194.5 476.9L193.8 477.1L193.0 477.3L192.3 477.5L191.6 477.8L190.9 478.0L190.2 478.2L189.4 478.4L188.7 478.6L188.0 478.9L187.3 479.1L186.5 479.3L185.8 479.6L185.1 479.8L184.4 480.0L183.7 480.3L183.0 480.6L182.3 480.9L181.6 481.2L180.9 481.5L180.2 481.8L179.5 482.1L178.8 482.4L178.2 482.7L177.5 483.0L176.8 483.3L176.1 483.7L175.4 484.0L174.7 484.3L174.1 484.6L173.4 485.0L172.7 485.3L172.1 485.7L171.4 486.1L170.8 486.5L170.1 486.9L169.5 487.3L168.9 487.7L168.2 488.1L167.6 488.5L167.0 488.9L166.3 489.3L165.7 489.7L165.0 490.1L164.4 490.5L163.8 490.9L163.1 491.4L162.5 491.8L161.9 492.2L161.3 492.6L160.6 493.0L160.0 493.4L159.4 493.9L158.8 494.3L158.1 494.7L157.5 495.2L156.9 495.6L156.3 496.0L155.6 496.4L155.0 496.9L154.4 497.3L153.8 497.7L153.2 498.1L152.5 498.6L151.9 499.0L151.3 499.4L150.7 499.9L150.0 500.3L149.4 500.7L148.8 501.1L148.2 501.6L147.6 502.0L146.9 502.4L146.3 502.9L145.7 503.3L145.1 503.7L144.4 504.1L143.8 504.6L143.2 505.0L142.6 505.4L142.0 505.8L141.3 506.3L140.7 506.7L140.1 507.1L139.4 507.5L138.8 507.9L138.2 508.3L137.5 508.8L136.9 509.2L136.3 509.6L135.6 510.0L135.0 510.4L134.4 510.8L133.7 511.2L133.1 511.6L132.4 512.0L131.8 512.4L131.2 512.8L130.5 513.2L129.9 513.6L129.2 514.0L128.6 514.3L127.9 514.7L127.2 515.0L126.6 515.3L125.9 515.6L125.2 515.9L124.5 516.2L123.8 516.5L123.1 516.8L122.4 517.1L121.7 517.4L121.0 517.6L120.3 517.9L119.6 518.2L118.9 518.4L118.2 518.7L117.4 519.0L116.7 519.2L116.0 519.5L115.3 519.8L114.6 520.0L113.9 520.3L113.2 520.5L112.5 520.8L111.8 521.0L111.1 521.3L110.3 521.6L109.6 521.8L108.9 522.1L108.2 522.3L107.5 522.6L106.8 522.8L106.1 523.1L105.4 523.3L104.7 523.6L103.9 523.8L103.2 524.1L102.5 524.3L101.8 524.5L101.1 524.8L100.4 525.0L99.6 525.2L98.9 525.4L98.2 525.6L97.4 525.8L96.7 526.0L96.0 526.1L95.2 526.3L94.5 526.5L93.8 526.7L93.0 526.9L92.3 527.0L91.6 527.2L90.8 527.4L90.1 527.5L89.4 527.6L88.6 527.8L87.9 527.9L87.1 528.0L86.4 528.1L85.6 528.2L84.9 528.3L84.1 528.4L83.4 528.5L82.6 528.6L81.9 528.7L81.1 528.8L80.4 528.8L79.6 528.9L78.9 528.9L78.1 529.0L77.4 529.0L76.6 529.1L75.9 529.1L75.1 529.1L74.4 529.1L73.6 529.1L72.8 529.2L72.1 529.2L71.3 529.2L70.6 529.2L69.8 529.2L69.1 529.2L68.3 529.3L67.6 529.3L66.8 529.3L66.1 529.2L65.5 529.2L64.8 529.1L64.2 528.9L63.7 528.7L63.3 528.3L63.0 527.9L62.7 527.4L62.5 526.9L62.4 526.2L62.3 525.6" fill="none" stroke="#303030" stroke-width="1.20" stroke-linejoin="round" stroke-linecap="round"/>
<path d="M62.3 525.4L63.0 525.2L63.8 525.1L64.5 524.9L65.2 524.8L66.0 524.6L66.7 524.5L67.5 524.3L68.2 524.2L68.9 524.0L69.7 523.9L70.4 523.7L71.1 523.6L71.9 523.4L72.6 523.3L73.4 523.1L74.1 523.0L74.8 522.8L75.6 522.7L76.3 522.5L77.0 522.4L77.8 522.2L78.5 522.0L79.2 521.8L80.0 521.7L80.7 521.5L81.4 521.3L82.1 521.1L82.9 520.9L83.6 520.6L84.3 520.4L85.0 520.2L85.8 520.0L86.5 519.8L87.2 519.6L87.9 519.3L88.6 519.1L89.4 518.9L90.1 518.7L90.8 518.5L91.5 518.3L92.2 518.1L93.0 517.8L93.7 517.6L94.4 517.4L95.1 517.2L95.9 517.0L96.6 516.8L97.3 516.6L98.0 516.3L98.7 516.1L99.5 515.9L100.2 515.7L100.9 515.4L101.6 515.2L102.3 514.9L103.0 514.7L103.7 514.4L104.4 514.1L105.1 513.8L105.8 513.5L106.4 513.1L107.1 512.8L107.7 512.4L108.3 512.0L108.9 511.6L109.5 511.1L110.0 510.6L110.6 510.1L111.1 509.6L111.6 509.0L112.1 508.5L112.6 507.9L113.1 507.4L113.6 506.8L114.1 506.2L114.6 505.7L115.1 505.1L115.6 504.6L116.1 504.0L116.6 503.4L117.1 502.9L117.6 502.3L118.1 501.7L118.6 501.2L119.1 500.6L119.6 500.0L120.1 499.5L120.6 498.9L121.1 498.3L121.6 497.8L122.1 497.2L122.6 496.6L123.1 496.1L123.6 495.5L124.1 494.9L124.6 494.4L125.1 493.8L125.6 493.2L126.1 492.7L126.6 492.1L127.1 491.5L127.6 491.0L128.1 490.4L128.6 489.9L129.1 489.3L129.6 488.7L130.1 488.2L130.6 487.6L131.1 487.0L131.5 486.5L132.0 485.9L132.5 485.3L133.0 484.8L133.5 484.2L134.0 483.6L134.5 483.0L134.9 482.4L135.4 481.8L135.8 481.2L136.2 480.6L136.6 480.0L137.1 479.4L137.5 478.7L137.9 478.1L138.3 477.5L138.7 476.8L139.1 476.2L139.5 475.6L139.9 474.9L140.3 474.3L140.7 473.6L141.1 473.0L141.5 472.4L141.9 471.7L142.3 471.1L142.7 470.4L143.0 469.8L143.4 469.1L143.8 468.5L144.2 467.9L144.6 467.2L145.0 466.6L145.4 465.9L145.8 465.3L146.2 464.6L146.6 464.0L146.9 463.3L147.3 462.7L147.7 462.1L148.1 461.4L148.5 460.8L148.9 460.1L149.3 459.5L149.7 458.8L150.1 458.2L150.5 457.5L150.8 456.9L151.2 456.3L151.6 455.6L152.0 455.0L152.4 454.3L152.8 453.7L153.2 453.0L153.6 452.4L153.9 451.7L154.3 451.1L154.7 450.4L155.1 449.8L155.5 449.2L155.9 448.5L156.3 447.9L156.7 447.2L157.1 446.6L157.5 446.0L157.9 445.3L158.3 444.7L158.7 444.1L159.2 443.5L159.6 442.9L160.1 442.3L160.6 441.7L161.1 441.2L161.6 440.6L162.0 440.0L162.5 439.5L163.0 438.9L163.6 438.3L164.1 437.8L164.6 437.3L165.1 436.7L165.7 436.2L166.2 435.7L166.8 435.2L167.4 434.7L167.9 434.3L168.5 433.8L169.1 433.4L169.8 433.0L170.4 432.6L171.0 432.2L171.7 431.9L172.4 431.6L173.1 431.3L173.8 431.1L174.5 430.9L175.2 430.7L175.9 430.6L176.6 430.5L177.4 430.5L178.1 430.5L178.8 430.5L179.6 430.6L180.3 430.7L181.0 430.8L181.8 430.9L182.5 431.1L183.2 431.3L183.9 431.5L184.6 431.7L185.3 432.0L186.0 432.3L186.7 432.6L187.4 432.9L188.1 433.2L188.7 433.5L189.4 433.9L190.1 434.2L190.7 434.6L191.4 434.9L192.1 435.3L192.7 435.6L193.4 436.0L194.1 436.4L194.7 436.7L195.4 437.1L196.0 437.5L196.7 437.8L197.3 438.2L198.0 438.6L198.7 438.9L199.3 439.3L200.0 439.6L200.6 440.0L201.3 440.4L202.0 440.7L202.6 441.1L203.3 441.4L204.0 441.8L204.6 442.1L205.3 442.4L206.0 442.8L206.7 443.1L207.3 443.4L208.0 443.8L208.7 444.1L209.4 444.4L210.1 444.7L210.8 445.0L211.4 445.3L212.1 445.6L212.8 445.9L213.5 446.2L214.2 446.4L214.9 446.7L215.6 447.0L216.3 447.3L217.0 447.6L217.7 447.9L218.4 448.1L219.1 448.4L219.8 448.7L220.5 448.9L221.2 449.2L221.9 449.4L222.7 449.7L223.4 449.9L224.1 450.1L224.8 450.2L225.6 450.4L226.3 450.6L227.0 450.7L227.8 450.9L228.5 451.0L229.2 451.2L230.0 451.3L230.7 451.4L231.5 451.6L232.2 451.7L232.9 451.9L233.7 452.0L234.4 452.1L235.2 452.3L235.9 452.4L236.6 452.5L237.4 452.6L238.1 452.8L238.9 452.9L239.6 453.0L240.4 453.1L241.1 453.2L241.9 453.3L242.6 453.4L243.3 453.5L244.1 453.6L244.8 453.7L245.6 453.9L246.3 454.0L247.0 454.2L247.7 454.4L248.4 454.7L249.1 454.9L249.8 455.2L249.3 455.8L248.9 456.4L248.4 456.9L247.9 457.5L247.4 458.0L246.8 458.5L246.3 459.0L245.7 459.4L245.1 459.8L244.4 460.1L243.8 460.4L243.1 460.7L242.4 461.0L241.7 461.3L241.0 461.6L240.3 461.8L239.6 462.1L238.8 462.3L238.1 462.6L237.4 462.8L236.7 463.0L236.0 463.3L235.3 463.5L234.5 463.7L233.8 463.9L233.1 464.2L232.4 464.4L231.6 464.6L230.9 464.8L230.2 465.0L229.5 465.2L228.7 465.4L228.0 465.7L227.3 465.9L226.6 466.1L225.8 466.3L225.1 466.5L224.4 466.7L223.7 466.9L222.9 467.1L222.2 467.3L221.5 467.5L220.8 467.7L220.0 467.9L219.3 468.1L218.6 468.3L217.8 468.5L217.1 468.7L216.4 468.9L215.7 469.1L214.9 469.3L214.2 469.5L213.5 469.7L212.7 469.9L212.0 470.1L211.3 470.3L210.6 470.5L209.8 470.7L209.1 470.9L208.4 471.1L207.7 471.3L206.9 471.6L206.2 471.8L205.5 472.0L204.8 472.2L204.1 472.5L203.3 472.7L202.6 472.9L201.9 473.2L201.2 473.4L200.5 473.7L199.8 473.9L199.0 474.1L198.3 474.4L197.6 474.6L196.9 474.9L196.2 475.1L195.5 475.4L194.8 475.6L194.0 475.9L193.3 476.1L192.6 476.4L191.9 476.6L191.2 476.9L190.5 477.1L189.8 477.4L189.1 477.6L188.3 477.9L187.6 478.1L186.9 478.4L186.2 478.6L185.5 478.9L184.8 479.1L184.1 479.4L183.4 479.7L182.7 480.0L182.0 480.3L181.3 480.6L180.6 480.9L179.9 481.2L179.2 481.5L178.5 481.8L177.8 482.1L177.2 482.4L176.5 482.7L175.8 483.0L175.1 483.4L174.4 483.7L173.8 484.0L173.1 484.4L172.4 484.7L171.8 485.1L171.1 485.5L170.5 485.9L169.8 486.3L169.2 486.7L168.6 487.1L167.9 487.5L167.3 487.9L166.7 488.3L166.0 488.7L165.4 489.2L164.8 489.6L164.1 490.0L163.5 490.4L162.9 490.8L162.3 491.2L161.6 491.7L161.0 492.1L160.4 492.5L159.8 492.9L159.1 493.4L158.5 493.8L157.9 494.2L157.3 494.7L156.7 495.1L156.0 495.5L155.4 496.0L154.8 496.4L154.2 496.8L153.6 497.2L152.9 497.7L152.3 498.1L151.7 498.5L151.1 499.0L150.5 499.4L149.8 499.8L149.2 500.2L148.6 500.7L148.0 501.1L147.3 501.5L146.7 501.9L146.1 502.4L145.5 502.8L144.8 503.2L144.2 503.6L143.6 504.1L143.0 504.5L142.3 504.9L141.7 505.3L141.1 505.8L140.4 506.2L139.8 506.6L139.2 507.0L138.6 507.4L137.9 507.8L137.3 508.2L136.7 508.6L136.0 509.1L135.4 509.5L134.7 509.9L134.1 510.3L133.5 510.7L132.8 511.1L132.2 511.5L131.6 511.9L130.9 512.3L130.3 512.7L129.6 513.1L129.0 513.5L128.3 513.9L127.7 514.2L127.0 514.6L126.3 514.9L125.7 515.2L125.0 515.5L124.3 515.8L123.6 516.1L122.9 516.4L122.2 516.7L121.5 517.0L120.8 517.3L120.1 517.6L119.4 517.9L118.7 518.2L118.0 518.4L117.3 518.7L116.6 519.0L115.9 519.3L115.2 519.5L114.5 519.8L113.8 520.0L113.1 520.3L112.4 520.6L111.6 520.8L110.9 521.1L110.2 521.3L109.5 521.6L108.8 521.9L108.1 522.1L107.4 522.4L106.7 522.6L106.0 522.9L105.3 523.2L104.5 523.4L103.8 523.7L103.1 523.9L102.4 524.1L101.7 524.4L101.0 524.6L100.2 524.8L99.5 525.0L98.8 525.2L98.1 525.4L97.3 525.6L96.6 525.8L95.9 526.0L95.1 526.2L94.4 526.3L93.7 526.5L92.9 526.7L92.2 526.9L91.5 527.0L90.7 527.2L90.0 527.3L89.2 527.5L88.5 527.6L87.8 527.7L87.0 527.8L86.3 527.9L85.5 528.1L84.8 528.2L84.0 528.3L83.3 528.4L82.5 528.5L81.8 528.6L81.0 528.7L80.3 528.7L79.5 528.8L78.8 528.8L78.0 528.9L77.3 528.9L76.5 529.0L75.8 529.0L75.0 529.0L74.3 529.0L73.5 529.0L72.7 529.1L72.0 529.1L71.2 529.1L70.5 529.1L69.7 529.1L69.0 529.1L68.2 529.2L67.5 529.2L66.8 529.2L66.0 529.1L65.4 529.1L64.7 528.9L64.2 528.8L63.7 528.5L63.3 528.2L63.0 527.8L62.7 527.2L62.5 526.7L62.4 526.0L62.3 525.4" fill="none" stroke="#ff2545" stroke-width="1.20" stroke-linejoin="round" stroke-linecap="round"/>
<path d="M62.3 529.2L62.3 528.4L62.3 527.7L62.3 526.9L62.3 526.2L62.4 525.5L62.7 524.9L63.2 524.6L63.9 524.3L64.6 524.1L65.4 523.9L66.1 523.7L66.8 523.5L67.6 523.3L68.3 523.2L69.1 523.0L69.8 522.8L70.5 522.6L71.3 522.4L72.0 522.2L72.8 522.0L73.5 521.8L74.2 521.6L75.0 521.4L75.7 521.2L76.5 521.1L77.2 520.9L77.9 520.7L78.7 520.5L79.4 520.3L80.2 520.1L80.9 519.8L81.6 519.6L82.3 519.3L83.0 519.1L83.8 518.8L84.5 518.6L85.2 518.3L85.9 518.1L86.7 517.8L87.4 517.6L88.1 517.3L88.8 517.1L89.5 516.8L90.3 516.5L91.0 516.3L91.7 516.0L92.4 515.8L93.2 515.5L93.9 515.3L94.6 515.0L95.3 514.7L96.0 514.5L96.8 514.2L97.5 514.0L98.2 513.7L98.9 513.5L99.6 513.2L100.4 512.9L101.1 512.7L101.8 512.4L102.5 512.1L103.2 511.9L103.9 511.6L104.6 511.3L105.4 511.0L106.1 510.7L106.8 510.5L107.5 510.2L108.2 509.9" fill="none" stroke="#3a3aff" stroke-width="1.20" stroke-linejoin="round" stroke-linecap="round"/>
<path d="M108.9 507.6L109.5 507.1L110.0 506.6L110.6 506.1L111.1 505.6L111.7 505.0L112.2 504.5L112.8 504.0L113.3 503.5L113.9 503.0L114.4 502.5L115.0 502.0L115.5 501.4L116.1 500.9L116.6 500.4L117.1 499.8L117.6 499.3L118.2 498.8L118.7 498.2L119.2 497.7L119.7 497.1L120.2 496.5L120.7 496.0L121.2 495.4L121.7 494.9L122.2 494.3L122.7 493.7L123.2 493.2L123.7 492.6L124.2 492.1L124.7 491.5L125.2 490.9L125.7 490.3L126.2 489.7L126.6 489.2L127.1 488.6L127.5 488.0L128.0 487.4L128.5 486.8L128.9 486.2L129.4 485.6L129.8 485.0L130.3 484.4L130.8 483.8L131.2 483.2L131.7 482.6L132.1 482.0L132.6 481.4L133.0 480.8L133.5 480.2L133.9 479.6L134.3 478.9L134.8 478.3L135.2 477.7L135.6 477.1L136.0 476.4L136.4 475.8L136.8 475.1L137.2 474.5L137.5 473.8L137.9 473.2L138.3 472.5L138.7 471.9L139.1 471.2L139.4 470.6L139.8 469.9L140.2 469.3L140.6 468.6L141.0 468.0L141.4 467.3L141.7 466.7L142.1 466.0L142.5 465.4L142.9 464.7L143.3 464.1L143.7 463.5L144.0 462.8L144.4 462.2L144.8 461.5L145.2 460.9L145.6 460.2L146.0 459.6L146.4 458.9L146.7 458.3L147.1 457.6L147.5 457.0L147.9 456.3L148.3 455.7L148.6 455.0L149.0 454.4L149.4 453.7L149.7 453.0L150.1 452.4L150.5 451.7L150.8 451.1L151.2 450.4L151.6 449.7L151.9 449.1L152.3 448.4L152.6 447.8L153.0 447.1L153.3 446.4L153.7 445.8L154.1 445.1L154.4 444.4L154.8 443.8L155.1 443.1L155.5 442.5L155.9 441.8L156.2 441.1L156.6 440.5L157.0 439.8L157.4 439.2L157.7 438.5L158.1 437.9L158.5 437.2L158.9 436.6L159.2 435.9L159.6 435.3L160.0 434.6L160.4 434.0L160.7 433.3L161.1 432.7L161.5 432.0L161.9 431.3L162.3 430.7L162.6 430.0L163.0 429.4L163.4 428.7L163.8 428.1L164.1 427.4L164.5 426.8L164.9 426.1L165.2 425.4L165.6 424.8L165.9 424.1L166.3 423.5L166.7 422.8L167.0 422.1L167.4 421.5L167.7 420.8L168.1 420.1L168.5 419.5L168.8 418.8L169.2 418.2L169.6 417.5L169.9 416.9L170.3 416.2L170.7 415.6L171.1 415.0L171.6 414.3L172.0 413.7L172.4 413.1L172.8 412.5L173.3 411.9L173.7 411.3L174.2 410.7L174.7 410.1L175.1 409.5L175.6 408.9L176.1 408.4L176.6 407.8L177.2 407.3L177.7 406.8L178.3 406.3L178.9 405.9L179.5 405.4L180.1 405.0L180.7 404.6L181.4 404.3L182.0 403.9L182.7 403.7L183.4 403.4L184.1 403.2L184.8 403.0L185.5 402.8L186.3 402.7L187.0 402.6L187.7 402.6L188.4 402.6L189.2 402.7L189.9 402.7L190.6 402.9L191.4 403.0L192.1 403.2L192.8 403.4L193.5 403.6L194.2 403.9L194.9 404.1L195.6 404.4L196.3 404.7L197.0 405.0L197.6 405.4L198.3 405.7L198.9 406.1L199.6 406.5L200.2 406.9L200.8 407.4L201.4 407.8L202.0 408.3L202.6 408.8L203.1 409.2L203.7 409.7L204.3 410.2L204.9 410.7L205.4 411.2L206.0 411.7L206.6 412.2L207.2 412.7L207.7 413.1L208.3 413.6L208.9 414.1L209.5 414.6L210.1 415.0L210.7 415.5L211.3 415.9L211.9 416.4L212.5 416.8L213.1 417.3L213.7 417.7L214.3 418.1L215.0 418.6L215.6 419.0L216.2 419.4L216.9 419.7L217.5 420.1L218.2 420.5L218.9 420.8L219.5 421.1L220.2 421.5L220.9 421.8L221.6 422.1L222.2 422.5L222.9 422.8L223.6 423.1L224.3 423.4L225.0 423.7L225.7 424.0L226.4 424.2L227.1 424.5L227.8 424.8L228.5 425.1L229.2 425.3L229.9 425.6L230.6 425.8L231.4 426.0L232.1 426.2L232.8 426.5L233.5 426.7L234.2 426.9L235.0 427.1L235.7 427.3L236.4 427.4L237.2 427.6L237.9 427.8L238.6 428.0L239.4 428.1L240.1 428.3L240.8 428.4L241.6 428.6L242.3 428.8L243.0 429.0L243.8 429.1L244.5 429.3L245.2 429.6L245.9 429.8L246.6 430.0L247.3 430.3L248.0 430.6L248.7 430.9L249.3 431.3L250.0 431.6L249.6 432.3L249.3 432.9L248.9 433.6L248.5 434.2L248.1 434.8L247.7 435.4L247.2 436.0L246.7 436.5L246.2 437.1L245.7 437.6L245.1 438.0L244.5 438.5L243.9 438.9L243.3 439.3L242.6 439.7L242.0 440.1L241.3 440.5L240.7 440.8L240.0 441.2L239.4 441.5L238.7 441.9L238.0 442.2L237.3 442.6L236.7 442.9L236.0 443.2L235.3 443.6L234.6 443.9L234.0 444.3L233.3 444.6L232.6 444.9L231.9 445.3L231.3 445.6L230.6 445.9L229.9 446.2L229.2 446.6L228.5 446.9L227.8 447.2L227.2 447.5L226.5 447.8L225.8 448.1L225.1 448.4L224.4 448.7L223.7 449.0L223.0 449.3L222.3 449.6L221.6 449.9L220.9 450.2L220.2 450.5L219.6 450.8L218.9 451.1L218.2 451.4L217.5 451.7L216.8 452.0L216.1 452.3L215.4 452.6L214.7 453.0L214.1 453.3L213.4 453.6L212.7 453.9L212.0 454.3L211.4 454.6L210.7 454.9L210.0 455.3L209.3 455.6L208.7 456.0L208.0 456.4L207.4 456.7L206.7 457.1L206.0 457.5L205.4 457.8L204.7 458.2L204.1 458.6L203.4 458.9L202.8 459.3L202.1 459.7L201.4 460.0L200.8 460.4L200.1 460.8L199.4 461.1L198.8 461.5L198.1 461.8L197.4 462.2L196.8 462.5L196.1 462.8L195.4 463.2L194.8 463.6L194.1 463.9L193.5 464.3L192.8 464.7L192.2 465.0L191.5 465.4L190.9 465.8L190.2 466.2L189.6 466.6L188.9 467.0L188.3 467.4L187.6 467.8L187.0 468.2L186.3 468.5L185.7 468.9L185.1 469.3L184.4 469.7L183.8 470.2L183.2 470.6L182.5 471.0L181.9 471.4L181.3 471.8L180.7 472.3L180.0 472.7L179.4 473.1L178.8 473.5L178.2 474.0L177.6 474.4L177.0 474.8L176.3 475.3L175.7 475.7L175.1 476.1L174.5 476.6L173.9 477.0L173.3 477.5L172.7 478.0L172.1 478.4L171.5 478.9L171.0 479.4L170.4 479.9L169.8 480.4L169.3 480.9L168.7 481.4L168.1 481.9L167.6 482.4L167.0 482.9L166.5 483.4L165.9 483.9L165.3 484.4L164.8 484.9L164.2 485.4L163.6 485.9L163.1 486.4L162.5 486.9L161.9 487.4L161.4 487.9L160.8 488.4L160.2 488.9L159.6 489.3L159.0 489.8L158.5 490.3L157.9 490.8L157.3 491.2L156.7 491.7L156.1 492.2L155.5 492.7L154.9 493.1L154.4 493.6L153.8 494.1L153.2 494.5L152.6 495.0L152.0 495.5L151.4 495.9L150.8 496.4L150.2 496.8L149.6 497.3L149.0 497.7L148.4 498.2L147.7 498.6L147.1 499.0L146.5 499.5L145.9 499.9L145.3 500.3L144.6 500.8L144.0 501.2L143.4 501.6L142.8 502.1L142.2 502.5L141.6 502.9L141.0 503.4L140.4 503.8L139.8 504.3L139.2 504.8L138.6 505.2L138.0 505.7L137.4 506.2L136.8 506.6L136.2 507.1L135.6 507.5L135.0 508.0L134.4 508.4L133.8 508.8L133.1 509.3L132.5 509.7L131.9 510.1L131.2 510.5L130.6 510.8L129.9 511.2L129.3 511.6L128.6 512.0L128.0 512.3L127.3 512.7L126.6 513.0L125.9 513.3L125.3 513.7L124.6 514.0L123.9 514.3L123.2 514.6L122.5 514.9L121.8 515.2L121.1 515.5L120.5 515.8L119.8 516.1L119.1 516.4L118.4 516.8L117.7 517.1L117.0 517.4L116.3 517.7L115.7 518.0L115.0 518.4L114.3 518.7L113.6 519.0L112.9 519.3L112.2 519.6L111.5 519.9L110.8 520.1L110.1 520.4L109.4 520.7L108.7 520.9L108.0 521.2L107.3 521.5L106.6 521.7L105.9 522.0L105.2 522.2L104.5 522.5L103.7 522.7L103.0 523.0L102.3 523.2L101.6 523.4L100.9 523.7L100.2 523.9L99.4 524.1L98.7 524.3L98.0 524.6L97.3 524.8L96.6 525.0L95.8 525.2L95.1 525.4L94.4 525.6L93.7 525.8L92.9 526.0L92.2 526.2L91.5 526.4L90.7 526.6L90.0 526.7L89.3 526.9L88.5 527.0L87.8 527.2L87.1 527.3L86.3 527.5L85.6 527.6L84.8 527.7L84.1 527.8L83.3 528.0L82.6 528.1L81.9 528.2L81.1 528.3L80.4 528.4L79.6 528.5L78.9 528.5L78.1 528.6L77.4 528.7L76.6 528.7L75.9 528.7L75.1 528.8L74.4 528.8L73.6 528.8L72.8 528.8L72.1 528.9L71.3 528.9L70.6 528.9L69.8 528.9L69.1 529.0L68.3 529.0L67.6 529.0L66.8 529.0L66.1 529.1L65.3 529.1L64.6 529.1L63.8 529.1L63.1 529.2L62.3 529.2" fill="none" stroke="#3a3aff" stroke-width="1.20" stroke-linejoin="round" stroke-linecap="round"/>
<path d="M62.3 528.8L62.3 528.1L62.4 527.3L62.4 526.6L62.6 525.9L62.7 525.3L63.0 524.7L63.3 524.1L63.6 523.6L64.1 523.1L64.6 522.7L65.2 522.3L65.8 522.0L66.5 521.6L67.1 521.3L67.8 521.0L68.5 520.7L69.2 520.4L69.9 520.1L70.6 519.8L71.3 519.5L72.0 519.3L72.7 519.0L73.4 518.7L74.1 518.4L74.8 518.2L75.5 517.9L76.2 517.6L76.9 517.4L77.6 517.1L78.3 516.8L79.0 516.6L79.7 516.3L80.4 516.0L81.1 515.8L81.8 515.5L82.5 515.2L83.2 514.9L84.0 514.7L84.7 514.4L85.4 514.1L86.1 513.8L86.8 513.5L87.5 513.3L88.1 513.0L88.8 512.7L89.5 512.4L90.2 512.1L90.9 511.8L91.6 511.4L92.2 511.1L92.9 510.7L93.6 510.4L94.2 510.0L94.9 509.7L95.6 509.3L96.2 509.0L96.9 508.6L97.5 508.2L98.2 507.9L98.9 507.5L99.5 507.1L100.2 506.7L100.8 506.3L101.4 505.9L102.1 505.5L102.7 505.1L103.3 504.7L103.9 504.2L104.5 503.8L105.1 503.3L105.7 502.9L106.3 502.4L106.9 502.0L107.5 501.5L108.1 501.0L108.7 500.6L109.3 500.1L109.9 499.6L110.5 499.2L111.1 498.7L111.6 498.2L112.2 497.7L112.8 497.2L113.4 496.7L113.9 496.2L114.5 495.8L115.1 495.3L115.6 494.8L116.2 494.3L116.8 493.8L117.3 493.3L117.9 492.8L118.4 492.2L119.0 491.7L119.5 491.2L120.0 490.7L120.6 490.1L121.1 489.6L121.6 489.0L122.2 488.5L122.7 488.0L123.2 487.4L123.7 486.9L124.2 486.3L124.8 485.8L125.3 485.2L125.8 484.7L126.3 484.1L126.8 483.6L127.3 483.0L127.7 482.4L128.2 481.8L128.7 481.2L129.1 480.6L129.6 480.0L130.1 479.4L130.5 478.8L131.0 478.2L131.4 477.6L131.9 477.0L132.3 476.4L132.8 475.8L133.2 475.2L133.7 474.6L134.1 474.0L134.5 473.4L134.9 472.7L135.4 472.1L135.8 471.5L136.2 470.8L136.6 470.2L136.9 469.5L137.3 468.9L137.7 468.3L138.1 467.6L138.5 467.0L138.9 466.3L139.3 465.7L139.7 465.0L140.1 464.4L140.4 463.7L140.8 463.1L141.2 462.4L141.6 461.8L142.0 461.1L142.3 460.5L142.7 459.8L143.1 459.2L143.5 458.5L143.8 457.9L144.2 457.2L144.6 456.6L145.0 455.9L145.4 455.3L145.8 454.6L146.2 454.0L146.6 453.4L147.0 452.7L147.4 452.1L147.8 451.5L148.3 450.8L148.7 450.2L149.1 449.6L149.5 449.0L149.9 448.3L150.3 447.7L150.8 447.1L151.2 446.5L151.6 445.8L152.0 445.2L152.4 444.6L152.8 443.9L153.3 443.3L153.7 442.7L154.1 442.0L154.5 441.4L154.9 440.8L155.3 440.2L155.7 439.5L156.1 438.9L156.5 438.2L156.9 437.6L157.4 437.0L157.8 436.3L158.2 435.7L158.6 435.1L159.0 434.4L159.4 433.8L159.8 433.2L160.2 432.5L160.6 431.9L161.0 431.3L161.4 430.6L161.8 430.0L162.2 429.4L162.6 428.7L163.1 428.1L163.5 427.5L163.9 426.9L164.3 426.2L164.8 425.6L165.2 425.0L165.7 424.4L166.1 423.8L166.6 423.2L167.0 422.6L167.5 422.0L167.9 421.4L168.4 420.8L168.8 420.2L169.3 419.6L169.8 419.0L170.3 418.5L170.8 417.9L171.3 417.4L171.9 416.9L172.4 416.4L173.0 415.9L173.6 415.4L174.2 414.9L174.7 414.5L175.3 414.0L176.0 413.6L176.6 413.2L177.2 412.8L177.9 412.5L178.5 412.1L179.2 411.8L179.9 411.5L180.6 411.2L181.3 410.9L182.0 410.7L182.7 410.4L183.4 410.2L184.1 410.0L184.8 409.9L185.5 409.8L186.3 409.7L187.0 409.7L187.7 409.7L188.5 409.8L189.2 409.9L189.9 410.0L190.7 410.1L191.4 410.3L192.1 410.5L192.8 410.7L193.5 410.9L194.2 411.1L194.9 411.4L195.6 411.8L196.2 412.1L196.9 412.5L197.5 412.9L198.1 413.3L198.8 413.7L199.4 414.1L200.0 414.5L200.7 414.9L201.3 415.3L201.9 415.8L202.6 416.2L203.2 416.6L203.8 416.9L204.5 417.3L205.1 417.7L205.8 418.1L206.4 418.5L207.1 418.9L207.7 419.2L208.4 419.6L209.1 419.9L209.8 420.2L210.4 420.6L211.1 420.9L211.8 421.2L212.5 421.4L213.2 421.7L213.9 422.0L214.6 422.3L215.3 422.5L216.0 422.8L216.7 423.0L217.5 423.3L218.2 423.5L218.9 423.7L219.6 423.9L220.3 424.1L221.1 424.3L221.8 424.5L222.5 424.7L223.3 424.9L224.0 425.1L224.7 425.3L225.5 425.4L226.2 425.6L226.9 425.7L227.7 425.9L228.4 426.0L229.1 426.2L229.9 426.3L230.6 426.5L231.4 426.6L232.1 426.7L232.9 426.9L233.6 427.0L234.3 427.1L235.1 427.3L235.8 427.4L236.6 427.5L237.3 427.6L238.1 427.7L238.8 427.8L239.6 427.9L240.3 428.0L241.1 428.1L241.8 428.1L242.6 428.2L243.3 428.3" fill="none" stroke="#ff22ff" stroke-width="1.20" stroke-linejoin="round" stroke-linecap="round"/>
<path d="M243.3 428.3L243.3 439.4" fill="none" stroke="#ff22ff" stroke-width="1.20" stroke-linejoin="round" stroke-linecap="round"/>
<path d="M243.3 439.4L242.7 439.8L242.0 440.2L241.4 440.6L240.8 441.0L240.1 441.4L239.5 441.8L238.8 442.2L238.2 442.6L237.5 443.0L236.9 443.3L236.2 443.7L235.5 444.0L234.9 444.4L234.2 444.7L233.5 445.0L232.8 445.3L232.1 445.7L231.5 446.0L230.8 446.3L230.1 446.6L229.4 446.9L228.7 447.2L228.0 447.5L227.3 447.8L226.6 448.2L226.0 448.5L225.3 448.8L224.6 449.1L223.9 449.4L223.2 449.6L222.5 449.9L221.8 450.2L221.1 450.5L220.4 450.7L219.7 451.0L218.9 451.2L218.2 451.5L217.5 451.7L216.8 452.0L216.1 452.2L215.4 452.5L214.7 452.7L214.0 453.0L213.2 453.2L212.5 453.4L211.8 453.7L211.1 453.9L210.4 454.2L209.7 454.5L209.0 454.7L208.3 455.0L207.6 455.2L206.9 455.5L206.2 455.8L205.5 456.1L204.8 456.3L204.1 456.6L203.4 456.9L202.7 457.2L202.0 457.5L201.3 457.7L200.6 458.0L199.9 458.3L199.2 458.7L198.5 459.0L197.8 459.3L197.1 459.6L196.5 460.0L195.8 460.3L195.1 460.6L194.5 461.0L193.8 461.3L193.1 461.7L192.5 462.0L191.8 462.4L191.1 462.8L190.5 463.1L189.8 463.5L189.1 463.9L188.5 464.2L187.8 464.6L187.2 464.9L186.5 465.3L185.8 465.7L185.2 466.0L184.5 466.4L183.9 466.8L183.2 467.2L182.6 467.6L181.9 467.9L181.3 468.3L180.6 468.7L180.0 469.1L179.3 469.5L178.7 469.9L178.0 470.3L177.4 470.7L176.8 471.1L176.1 471.4L175.5 471.8L174.8 472.2L174.2 472.7L173.6 473.1L172.9 473.5L172.3 473.9L171.7 474.4L171.1 474.8L170.5 475.3L169.9 475.7L169.3 476.2L168.7 476.7L168.1 477.1L167.6 477.6L167.0 478.1L166.4 478.5L165.8 479.0L165.2 479.5L164.6 480.0L164.0 480.4L163.4 480.9L162.8 481.4L162.2 481.8L161.6 482.3L161.0 482.7L160.4 483.2L159.8 483.7L159.2 484.1L158.6 484.6L158.0 485.0L157.4 485.5L156.8 485.9L156.2 486.4L155.6 486.8L155.0 487.3L154.4 487.7L153.8 488.2L153.2 488.7L152.6 489.1L152.0 489.6L151.4 490.0L150.8 490.5L150.2 490.9L149.6 491.4L149.0 491.8L148.4 492.3L147.8 492.7L147.2 493.1L146.5 493.6L145.9 494.0L145.3 494.5L144.7 494.9L144.1 495.4L143.5 495.8L142.9 496.3L142.3 496.7L141.7 497.2L141.1 497.6L140.5 498.1L139.9 498.5L139.3 499.0L138.6 499.4L138.0 499.8L137.4 500.3L136.8 500.7L136.2 501.2L135.6 501.6L135.0 502.0L134.3 502.4L133.7 502.8L133.1 503.2L132.4 503.6L131.8 504.0L131.1 504.4L130.5 504.8L129.8 505.2L129.2 505.6L128.5 505.9L127.9 506.3L127.2 506.6L126.5 507.0L125.8 507.3L125.2 507.6L124.5 508.0L123.8 508.3L123.1 508.6L122.4 508.9L121.7 509.2L121.0 509.5L120.4 509.9L119.7 510.2L119.0 510.5L118.3 510.8L117.7 511.2L117.0 511.5L116.3 511.9L115.7 512.3L115.0 512.6L114.4 513.0L113.7 513.4L113.1 513.7L112.4 514.1L111.7 514.5L111.1 514.8L110.4 515.2L109.7 515.5L109.0 515.8L108.4 516.1L107.7 516.5L107.0 516.8L106.3 517.1L105.6 517.4L104.9 517.7L104.2 518.0L103.5 518.3L102.8 518.6L102.1 518.9L101.5 519.2L100.8 519.5L100.1 519.8L99.4 520.1L98.7 520.4L98.0 520.7L97.3 521.0L96.6 521.3L95.9 521.6L95.3 522.0L94.6 522.3L93.9 522.6L93.2 522.9L92.5 523.1L91.8 523.4L91.1 523.7L90.4 524.0L89.7 524.2L89.0 524.5L88.2 524.7L87.5 524.9L86.8 525.2L86.1 525.4L85.4 525.6L84.6 525.8L83.9 526.0L83.2 526.2L82.5 526.5L81.7 526.6L81.0 526.8L80.3 527.0L79.5 527.1L78.8 527.3L78.1 527.4L77.3 527.5L76.6 527.6L75.8 527.6L75.1 527.7L74.3 527.8L73.6 527.9L72.8 527.9L72.1 528.0L71.3 528.1L70.6 528.1L69.8 528.2L69.1 528.3L68.3 528.3L67.6 528.4L66.8 528.4L66.1 528.5L65.3 528.6L64.6 528.6L63.8 528.7L63.1 528.7L62.3 528.8" fill="none" stroke="#ff22ff" stroke-width="1.20" stroke-linejoin="round" stroke-linecap="round"/>
<line x1="38.70" y1="388.30" x2="272.70" y2="388.30" stroke="#3c3c3c" stroke-width="1.35" stroke-linecap="square"/>
<line x1="272.70" y1="388.30" x2="272.70" y2="550.00" stroke="#888" stroke-width="1.80" stroke-linecap="square"/>
<line x1="38.70" y1="388.30" x2="38.70" y2="550.00" stroke="#707070" stroke-width="1.80" stroke-linecap="square"/>
<line x1="38.70" y1="550.00" x2="272.70" y2="550.00" stroke="#3c3c3c" stroke-width="1.35" stroke-linecap="square"/>
<line x1="35.20" y1="400.45" x2="38.70" y2="400.45" stroke="#2a2a2a" stroke-width="1.25"/>
<line x1="35.20" y1="425.30" x2="38.70" y2="425.30" stroke="#2a2a2a" stroke-width="1.25"/>
<line x1="35.20" y1="450.15" x2="38.70" y2="450.15" stroke="#2a2a2a" stroke-width="1.25"/>
<line x1="35.20" y1="475.00" x2="38.70" y2="475.00" stroke="#2a2a2a" stroke-width="1.25"/>
<line x1="35.20" y1="499.85" x2="38.70" y2="499.85" stroke="#2a2a2a" stroke-width="1.25"/>
<line x1="35.20" y1="524.70" x2="38.70" y2="524.70" stroke="#2a2a2a" stroke-width="1.25"/>
<line x1="35.20" y1="549.55" x2="38.70" y2="549.55" stroke="#2a2a2a" stroke-width="1.25"/>
<text x="33.30" y="403.15" font-size="7.50" font-weight="bold" text-anchor="end" fill="#141414" stroke="#141414" stroke-width="0.34">0.025</text>
<text x="33.30" y="428.00" font-size="7.50" font-weight="bold" text-anchor="end" fill="#141414" stroke="#141414" stroke-width="0.34">0.020</text>
<text x="33.30" y="452.85" font-size="7.50" font-weight="bold" text-anchor="end" fill="#141414" stroke="#141414" stroke-width="0.34">0.015</text>
<text x="33.30" y="477.70" font-size="7.50" font-weight="bold" text-anchor="end" fill="#141414" stroke="#141414" stroke-width="0.34">0.010</text>
<text x="33.30" y="502.55" font-size="7.50" font-weight="bold" text-anchor="end" fill="#141414" stroke="#141414" stroke-width="0.34">0.005</text>
<text x="33.30" y="527.40" font-size="7.50" font-weight="bold" text-anchor="end" fill="#141414" stroke="#141414" stroke-width="0.34">0.000</text>
<text x="33.30" y="552.25" font-size="7.50" font-weight="bold" text-anchor="end" fill="#141414" stroke="#141414" stroke-width="0.34">-0.005</text>
<line x1="38.70" y1="550.00" x2="38.70" y2="553.00" stroke="#2a2a2a" stroke-width="1.25"/>
<line x1="62.10" y1="550.00" x2="62.10" y2="553.00" stroke="#2a2a2a" stroke-width="1.25"/>
<line x1="85.50" y1="550.00" x2="85.50" y2="553.00" stroke="#2a2a2a" stroke-width="1.25"/>
<line x1="108.90" y1="550.00" x2="108.90" y2="553.00" stroke="#2a2a2a" stroke-width="1.25"/>
<line x1="132.30" y1="550.00" x2="132.30" y2="553.00" stroke="#2a2a2a" stroke-width="1.25"/>
<line x1="155.70" y1="550.00" x2="155.70" y2="553.00" stroke="#2a2a2a" stroke-width="1.25"/>
<line x1="179.10" y1="550.00" x2="179.10" y2="553.00" stroke="#2a2a2a" stroke-width="1.25"/>
<line x1="202.50" y1="550.00" x2="202.50" y2="553.00" stroke="#2a2a2a" stroke-width="1.25"/>
<line x1="225.90" y1="550.00" x2="225.90" y2="553.00" stroke="#2a2a2a" stroke-width="1.25"/>
<line x1="249.30" y1="550.00" x2="249.30" y2="553.00" stroke="#2a2a2a" stroke-width="1.25"/>
<line x1="272.70" y1="550.00" x2="272.70" y2="553.00" stroke="#2a2a2a" stroke-width="1.25"/>
<text x="62.10" y="561.20" font-size="7.20" font-weight="bold" text-anchor="middle" fill="#141414" stroke="#141414" stroke-width="0.32">-0.2</text>
<text x="108.90" y="561.20" font-size="7.20" font-weight="bold" text-anchor="middle" fill="#141414" stroke="#141414" stroke-width="0.32">0.0</text>
<text x="155.70" y="561.20" font-size="7.20" font-weight="bold" text-anchor="middle" fill="#141414" stroke="#141414" stroke-width="0.32">0.2</text>
<text x="202.50" y="561.20" font-size="7.20" font-weight="bold" text-anchor="middle" fill="#141414" stroke="#141414" stroke-width="0.32">0.4</text>
<text x="249.30" y="561.20" font-size="7.20" font-weight="bold" text-anchor="middle" fill="#141414" stroke="#141414" stroke-width="0.32">0.6</text>
<text x="155.70" y="572.00" font-size="8.40" font-weight="bold" text-anchor="middle" fill="#141414" stroke="#141414" stroke-width="0.38">Potential (V) vs Ag/AgCl</text>
<text x="9.20" y="471.80" font-size="7.80" font-weight="bold" text-anchor="middle" fill="#141414" stroke="#141414" stroke-width="0.35" transform="rotate(-90 9.20 471.80)">Current (mA)</text>
<text x="240.40" y="404.60" font-size="20.20" font-weight="bold" text-anchor="start" fill="#111" stroke="#111" stroke-width="0.15">(e)</text>
<rect x="49.60" y="389.90" width="44.90" height="39.80" fill="#fff" stroke="#9a9a9a" stroke-width="0.8"/>
<line x1="53.30" y1="395.50" x2="72.60" y2="395.50" stroke="#303030" stroke-width="1.40"/>
<text x="74.90" y="398.60" font-size="8.70" font-weight="normal" text-anchor="start" fill="#222" stroke="#222" stroke-width="0.15">pH 5</text>
<line x1="53.30" y1="404.90" x2="72.60" y2="404.90" stroke="#ff2545" stroke-width="1.40"/>
<text x="74.90" y="408.00" font-size="8.70" font-weight="normal" text-anchor="start" fill="#222" stroke="#222" stroke-width="0.15">pH 6</text>
<line x1="53.30" y1="414.50" x2="72.60" y2="414.50" stroke="#3a3aff" stroke-width="1.40"/>
<text x="74.90" y="417.60" font-size="8.70" font-weight="normal" text-anchor="start" fill="#222" stroke="#222" stroke-width="0.15">pH 7</text>
<line x1="53.30" y1="424.30" x2="72.60" y2="424.30" stroke="#ff22ff" stroke-width="1.40"/>
<text x="74.90" y="427.40" font-size="8.70" font-weight="normal" text-anchor="start" fill="#222" stroke="#222" stroke-width="0.15">pH 8</text>
<path d="M329.5 539.3L396.1 529.7L462.7 405.3L529.3 439.5" fill="none" stroke="#3a3aff" stroke-width="1.20" stroke-linejoin="round" stroke-linecap="round"/>
<circle cx="329.50" cy="539.34" r="2.6" fill="#ff1a1a"/>
<circle cx="396.10" cy="529.75" r="2.6" fill="#ff1a1a"/>
<circle cx="462.70" cy="405.27" r="2.6" fill="#ff1a1a"/>
<circle cx="529.30" cy="439.49" r="2.6" fill="#ff1a1a"/>
<line x1="312.70" y1="389.60" x2="546.10" y2="389.60" stroke="#3c3c3c" stroke-width="1.35" stroke-linecap="square"/>
<line x1="546.10" y1="389.60" x2="546.10" y2="552.30" stroke="#888" stroke-width="1.80" stroke-linecap="square"/>
<line x1="312.70" y1="389.60" x2="312.70" y2="552.30" stroke="#787878" stroke-width="1.80" stroke-linecap="square"/>
<line x1="312.70" y1="552.30" x2="546.10" y2="552.30" stroke="#333" stroke-width="1.35" stroke-linecap="square"/>
<line x1="309.20" y1="552.20" x2="312.70" y2="552.20" stroke="#2a2a2a" stroke-width="1.25"/>
<line x1="309.20" y1="530.40" x2="312.70" y2="530.40" stroke="#2a2a2a" stroke-width="1.25"/>
<line x1="309.20" y1="508.60" x2="312.70" y2="508.60" stroke="#2a2a2a" stroke-width="1.25"/>
<line x1="309.20" y1="486.80" x2="312.70" y2="486.80" stroke="#2a2a2a" stroke-width="1.25"/>
<line x1="309.20" y1="465.00" x2="312.70" y2="465.00" stroke="#2a2a2a" stroke-width="1.25"/>
<line x1="309.20" y1="443.20" x2="312.70" y2="443.20" stroke="#2a2a2a" stroke-width="1.25"/>
<line x1="309.20" y1="421.40" x2="312.70" y2="421.40" stroke="#2a2a2a" stroke-width="1.25"/>
<line x1="309.20" y1="399.60" x2="312.70" y2="399.60" stroke="#2a2a2a" stroke-width="1.25"/>
<text x="307.10" y="554.90" font-size="7.50" font-weight="bold" text-anchor="end" fill="#141414" stroke="#141414" stroke-width="0.34">0.018</text>
<text x="307.10" y="533.10" font-size="7.50" font-weight="bold" text-anchor="end" fill="#141414" stroke="#141414" stroke-width="0.34">0.019</text>
<text x="307.10" y="511.30" font-size="7.50" font-weight="bold" text-anchor="end" fill="#141414" stroke="#141414" stroke-width="0.34">0.020</text>
<text x="307.10" y="489.50" font-size="7.50" font-weight="bold" text-anchor="end" fill="#141414" stroke="#141414" stroke-width="0.34">0.021</text>
<text x="307.10" y="467.70" font-size="7.50" font-weight="bold" text-anchor="end" fill="#141414" stroke="#141414" stroke-width="0.34">0.022</text>
<text x="307.10" y="445.90" font-size="7.50" font-weight="bold" text-anchor="end" fill="#141414" stroke="#141414" stroke-width="0.34">0.023</text>
<text x="307.10" y="424.10" font-size="7.50" font-weight="bold" text-anchor="end" fill="#141414" stroke="#141414" stroke-width="0.34">0.024</text>
<text x="307.10" y="402.30" font-size="7.50" font-weight="bold" text-anchor="end" fill="#141414" stroke="#141414" stroke-width="0.34">0.025</text>
<line x1="329.50" y1="552.30" x2="329.50" y2="555.30" stroke="#2a2a2a" stroke-width="1.25"/>
<line x1="362.80" y1="552.30" x2="362.80" y2="555.30" stroke="#2a2a2a" stroke-width="1.25"/>
<line x1="396.10" y1="552.30" x2="396.10" y2="555.30" stroke="#2a2a2a" stroke-width="1.25"/>
<line x1="429.40" y1="552.30" x2="429.40" y2="555.30" stroke="#2a2a2a" stroke-width="1.25"/>
<line x1="462.70" y1="552.30" x2="462.70" y2="555.30" stroke="#2a2a2a" stroke-width="1.25"/>
<line x1="496.00" y1="552.30" x2="496.00" y2="555.30" stroke="#2a2a2a" stroke-width="1.25"/>
<line x1="529.30" y1="552.30" x2="529.30" y2="555.30" stroke="#2a2a2a" stroke-width="1.25"/>
<text x="329.50" y="563.60" font-size="7.00" font-weight="bold" text-anchor="middle" fill="#141414" stroke="#141414" stroke-width="0.32">5.0</text>
<text x="362.80" y="563.60" font-size="7.00" font-weight="bold" text-anchor="middle" fill="#141414" stroke="#141414" stroke-width="0.32">5.5</text>
<text x="396.10" y="563.60" font-size="7.00" font-weight="bold" text-anchor="middle" fill="#141414" stroke="#141414" stroke-width="0.32">6.0</text>
<text x="429.40" y="563.60" font-size="7.00" font-weight="bold" text-anchor="middle" fill="#141414" stroke="#141414" stroke-width="0.32">6.5</text>
<text x="462.70" y="563.60" font-size="7.00" font-weight="bold" text-anchor="middle" fill="#141414" stroke="#141414" stroke-width="0.32">7.0</text>
<text x="496.00" y="563.60" font-size="7.00" font-weight="bold" text-anchor="middle" fill="#141414" stroke="#141414" stroke-width="0.32">7.5</text>
<text x="529.30" y="563.60" font-size="7.00" font-weight="bold" text-anchor="middle" fill="#141414" stroke="#141414" stroke-width="0.32">8.0</text>
<text x="429.10" y="573.50" font-size="8.20" font-weight="bold" text-anchor="middle" fill="#141414" stroke="#141414" stroke-width="0.37">pH</text>
<text x="284.30" y="472.50" font-size="8.20" font-weight="bold" text-anchor="middle" fill="#141414" stroke="#141414" stroke-width="0.37" transform="rotate(-90 284.30 472.50)">I/mA</text>
<text x="515.80" y="408.60" font-size="20.20" font-weight="bold" text-anchor="start" fill="#111" stroke="#111" stroke-width="0.15">(f)</text>
</svg>
</body></html>
